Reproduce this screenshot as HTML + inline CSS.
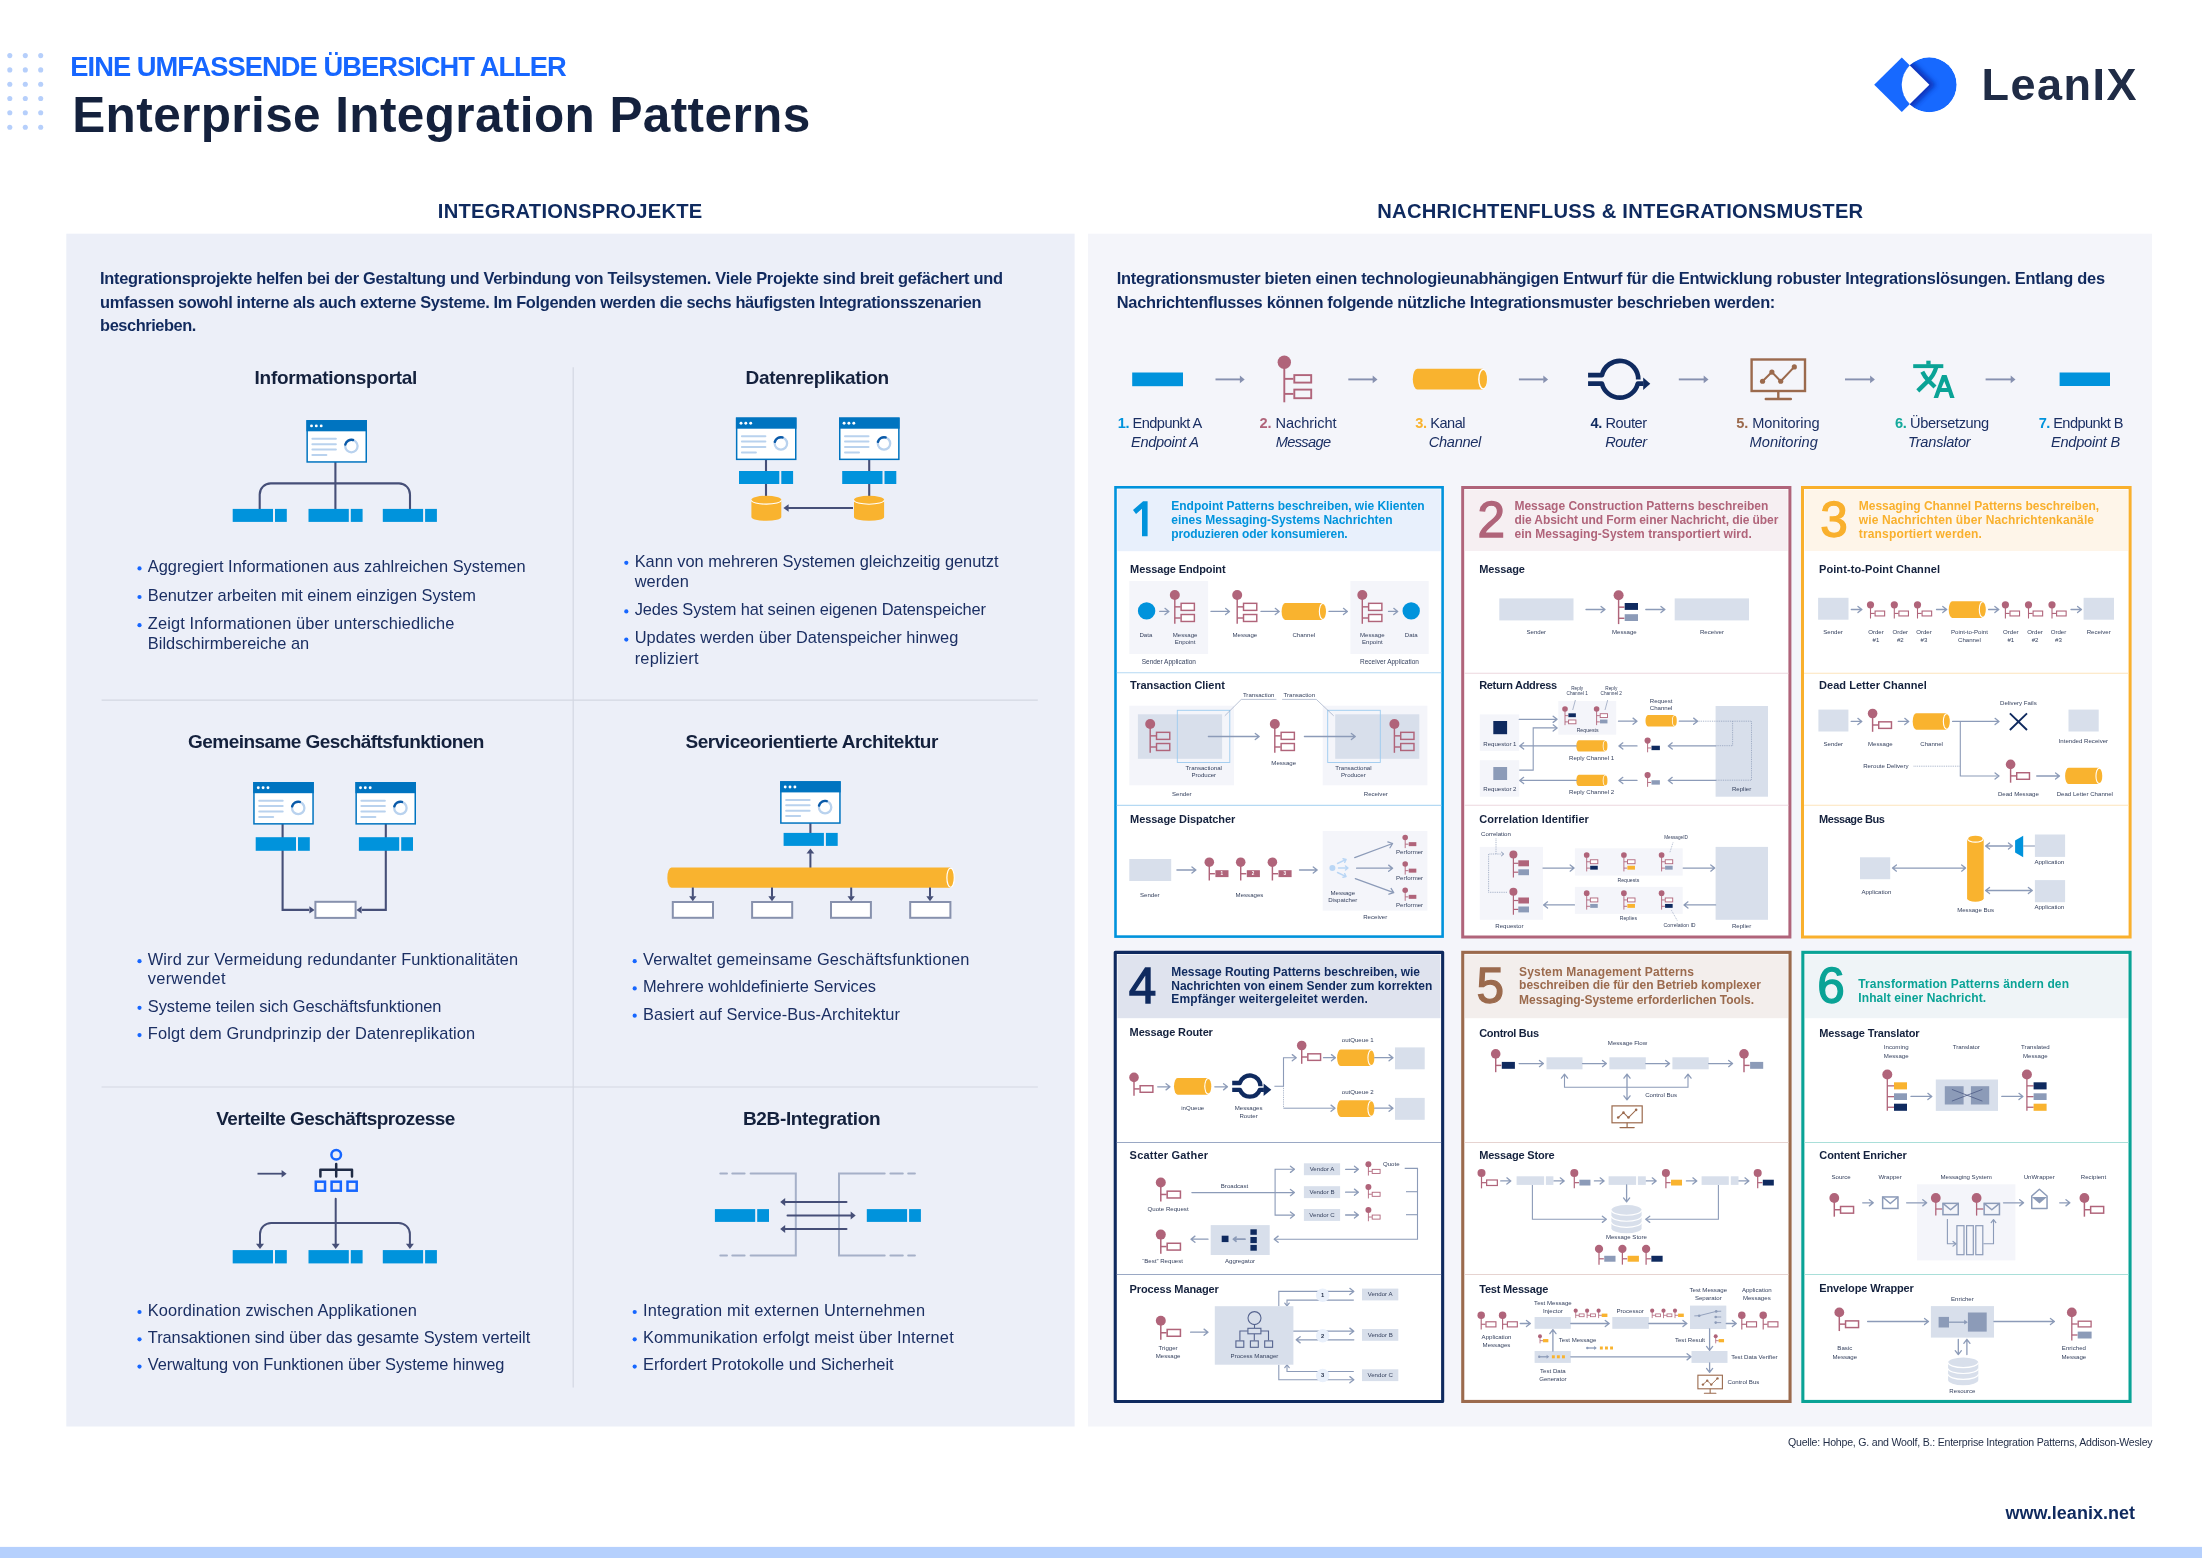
<!DOCTYPE html>
<html lang="de"><head><meta charset="utf-8"><title>Enterprise Integration Patterns</title>
<style>
html,body{margin:0;padding:0;background:#fff}
body{width:2206px;height:1558px;overflow:hidden;font-family:"Liberation Sans",sans-serif}
svg{display:block;position:absolute;left:0;top:0;will-change:transform}
svg text{font-family:"Liberation Sans",sans-serif;white-space:pre}
</style></head><body>
<svg width="2206" height="1558" viewBox="0 0 2206 1558">
<circle cx="9.8" cy="55.6" r="2.55" fill="#b6cffb"/>
<circle cx="9.8" cy="69.9" r="2.55" fill="#b6cffb"/>
<circle cx="9.8" cy="84.2" r="2.55" fill="#b6cffb"/>
<circle cx="9.8" cy="98.5" r="2.55" fill="#b6cffb"/>
<circle cx="9.8" cy="112.8" r="2.55" fill="#b6cffb"/>
<circle cx="9.8" cy="127.2" r="2.55" fill="#b6cffb"/>
<circle cx="25.3" cy="55.6" r="2.55" fill="#b6cffb"/>
<circle cx="25.3" cy="69.9" r="2.55" fill="#b6cffb"/>
<circle cx="25.3" cy="84.2" r="2.55" fill="#b6cffb"/>
<circle cx="25.3" cy="98.5" r="2.55" fill="#b6cffb"/>
<circle cx="25.3" cy="112.8" r="2.55" fill="#b6cffb"/>
<circle cx="25.3" cy="127.2" r="2.55" fill="#b6cffb"/>
<circle cx="40.7" cy="55.6" r="2.55" fill="#b6cffb"/>
<circle cx="40.7" cy="69.9" r="2.55" fill="#b6cffb"/>
<circle cx="40.7" cy="84.2" r="2.55" fill="#b6cffb"/>
<circle cx="40.7" cy="98.5" r="2.55" fill="#b6cffb"/>
<circle cx="40.7" cy="112.8" r="2.55" fill="#b6cffb"/>
<circle cx="40.7" cy="127.2" r="2.55" fill="#b6cffb"/>
<text x="70.3" y="76.2" font-size="27.3" fill="#1666ff" textLength="496.5" lengthAdjust="spacing" font-weight="700">EINE UMFASSENDE ÜBERSICHT ALLER</text>
<text x="72.2" y="132.4" font-size="49.5" fill="#14213d" textLength="738" lengthAdjust="spacing" font-weight="700">Enterprise Integration Patterns</text>
<defs><clipPath id="cpC"><circle cx="1929.2" cy="84.8" r="27.5"/></clipPath><filter id="bl" x="-50%" y="-50%" width="200%" height="200%"><feGaussianBlur stdDeviation="2.6"/></filter><mask id="mD"><rect x="1860" y="50" width="110" height="70" fill="#fff"/><circle cx="1929.2" cy="84.8" r="27.5" fill="#000"/></mask></defs>
<g clip-path="url(#cpC)"><circle cx="1929.2" cy="84.8" r="27.5" fill="#1769ff"/><path d="M1899 54.8 L1929.4 84.8 L1899 114.8" fill="none" stroke="#0733b8" stroke-width="9" filter="url(#bl)" opacity="0.95"/><path d="M1874.2 84.8 L1901.8 57.6 L1929.4 84.8 L1901.8 112 Z" fill="#fff"/></g>
<path d="M1874.2 84.8 L1901.8 57.6 L1929.4 84.8 L1901.8 112 Z" fill="#1769ff" mask="url(#mD)"/>
<text x="1981.5" y="99.9" font-size="45" fill="#202c46" textLength="155" lengthAdjust="spacing" font-weight="700">LeanIX</text>
<text x="437.8" y="217.6" font-size="20.2" fill="#0f2a5f" textLength="264.5" lengthAdjust="spacing" font-weight="700">INTEGRATIONSPROJEKTE</text>
<text x="1377.2" y="217.6" font-size="20.2" fill="#0f2a5f" textLength="486" lengthAdjust="spacing" font-weight="700">NACHRICHTENFLUSS &amp; INTEGRATIONSMUSTER</text>
<rect x="66.3" y="233.7" width="1008.3" height="1192.8" fill="#eceff8"/>
<rect x="1088" y="233.7" width="1064" height="1192.8" fill="#f4f5fa"/>
<text x="1788" y="1446.3" font-size="10.6" fill="#1f2b45" textLength="364.6" lengthAdjust="spacing">Quelle: Hohpe, G. and Woolf, B.: Enterprise Integration Patterns, Addison-Wesley</text>
<text x="2005.4" y="1519.3" font-size="18" fill="#0f2a5f" textLength="129.6" lengthAdjust="spacing" font-weight="700">www.leanix.net</text>
<rect x="0" y="1546.9" width="2202" height="11.1" fill="#b5d0fd"/>
<text x="100.1" y="284" font-size="16.4" fill="#112a5e" textLength="902.9" lengthAdjust="spacing" font-weight="700">Integrationsprojekte helfen bei der Gestaltung und Verbindung von Teilsystemen. Viele Projekte sind breit gefächert und</text>
<text x="100.1" y="307.7" font-size="16.4" fill="#112a5e" textLength="881.4" lengthAdjust="spacing" font-weight="700">umfassen sowohl interne als auch externe Systeme. Im Folgenden werden die sechs häufigsten Integrationsszenarien</text>
<text x="100.1" y="331.4" font-size="16.4" fill="#112a5e" textLength="96.3" lengthAdjust="spacing" font-weight="700">beschrieben.</text>
<path d="M573.2 367.3 L573.2 1387.4" fill="none" stroke="#d3d7e2" stroke-width="1.2"/>
<path d="M101.6 700.2 L1037.8 700.2" fill="none" stroke="#d3d7e2" stroke-width="1.2"/>
<path d="M101.6 1087 L1037.8 1087" fill="none" stroke="#d3d7e2" stroke-width="1.2"/>
<text x="254.6" y="384.2" font-size="19" fill="#14213d" textLength="162.8" lengthAdjust="spacing" font-weight="700">Informationsportal</text>
<text x="745.6" y="384.2" font-size="19" fill="#14213d" textLength="143.4" lengthAdjust="spacing" font-weight="700">Datenreplikation</text>
<text x="188.1" y="748" font-size="19" fill="#14213d" textLength="296.3" lengthAdjust="spacing" font-weight="700">Gemeinsame Geschäftsfunktionen</text>
<text x="685.5" y="748" font-size="19" fill="#14213d" textLength="252.9" lengthAdjust="spacing" font-weight="700">Serviceorientierte Architektur</text>
<text x="216.3" y="1124.7" font-size="19" fill="#14213d" textLength="239" lengthAdjust="spacing" font-weight="700">Verteilte Geschäftsprozesse</text>
<text x="742.9" y="1124.7" font-size="19" fill="#14213d" textLength="137.7" lengthAdjust="spacing" font-weight="700">B2B-Integration</text>
<path d="M335.4 462 L335.4 509 M259.7 509 L259.7 494.4 A11 11 0 0 1 270.7 483.4 L399 483.4 A11 11 0 0 1 410 494.4 L410 509" fill="none" stroke="#464f78" stroke-width="2.1"/>
<rect x="307.15" y="420.85" width="59.1" height="41.1" fill="#fff" stroke="#0074c0" stroke-width="1.5"/>
<rect x="306.4" y="420.1" width="60.6" height="11.2" fill="#0074c0"/>
<circle cx="311.5" cy="425.9" r="1.45" fill="#fff"/>
<circle cx="316.3" cy="425.9" r="1.45" fill="#fff"/>
<circle cx="321.2" cy="425.9" r="1.45" fill="#fff"/>
<path d="M312.4 438.8 L335.9 438.8" fill="none" stroke="#b9d2ee" stroke-width="2" stroke-linecap="round"/>
<path d="M312.4 444.2 L335.9 444.2" fill="none" stroke="#b9d2ee" stroke-width="2" stroke-linecap="round"/>
<path d="M312.4 449.6 L335.9 449.6" fill="none" stroke="#b9d2ee" stroke-width="2" stroke-linecap="round"/>
<path d="M312.4 455 L326.4 455" fill="none" stroke="#b9d2ee" stroke-width="2" stroke-linecap="round"/>
<circle cx="351.4" cy="446.1" r="6.2" fill="none" stroke="#b9d2ee" stroke-width="2.3"/>
<path d="M345.31 444.47 A6.3 6.3 0 0 1 353.03 440.01" fill="none" stroke="#0a5aa8" stroke-width="2.4" stroke-linecap="round"/>
<rect x="232.7" y="508.9" width="40.3" height="13" fill="#0093dc"/>
<rect x="275" y="508.9" width="11.8" height="13" fill="#0093dc"/>
<rect x="308.5" y="508.9" width="40.3" height="13" fill="#0093dc"/>
<rect x="350.8" y="508.9" width="11.8" height="13" fill="#0093dc"/>
<rect x="382.8" y="508.9" width="40.3" height="13" fill="#0093dc"/>
<rect x="425.1" y="508.9" width="11.8" height="13" fill="#0093dc"/>
<circle cx="139.5" cy="568.4" r="2.1" fill="#1666ff"/>
<text x="147.8" y="572.27" font-size="16.4" fill="#1b2f63" textLength="377.8" lengthAdjust="spacing">Aggregiert Informationen aus zahlreichen Systemen</text>
<circle cx="139.5" cy="597" r="2.1" fill="#1666ff"/>
<text x="147.8" y="600.87" font-size="16.4" fill="#1b2f63" textLength="328.2" lengthAdjust="spacing">Benutzer arbeiten mit einem einzigen System</text>
<circle cx="139.5" cy="625.2" r="2.1" fill="#1666ff"/>
<text x="147.8" y="629.07" font-size="16.4" fill="#1b2f63" textLength="306.6" lengthAdjust="spacing">Zeigt Informationen über unterschiedliche</text>
<text x="147.8" y="649.17" font-size="16.4" fill="#1b2f63" textLength="161.4" lengthAdjust="spacing">Bildschirmbereiche an</text>
<path d="M766 459 L766 497" fill="none" stroke="#464f78" stroke-width="2.1"/>
<path d="M869.2 459 L869.2 497" fill="none" stroke="#464f78" stroke-width="2.1"/>
<rect x="736.65" y="418.25" width="59.1" height="41.1" fill="#fff" stroke="#0074c0" stroke-width="1.5"/>
<rect x="735.9" y="417.5" width="60.6" height="11.2" fill="#0074c0"/>
<circle cx="741" cy="423.3" r="1.45" fill="#fff"/>
<circle cx="745.8" cy="423.3" r="1.45" fill="#fff"/>
<circle cx="750.7" cy="423.3" r="1.45" fill="#fff"/>
<path d="M741.9 436.2 L765.4 436.2" fill="none" stroke="#b9d2ee" stroke-width="2" stroke-linecap="round"/>
<path d="M741.9 441.6 L765.4 441.6" fill="none" stroke="#b9d2ee" stroke-width="2" stroke-linecap="round"/>
<path d="M741.9 447 L765.4 447" fill="none" stroke="#b9d2ee" stroke-width="2" stroke-linecap="round"/>
<path d="M741.9 452.4 L755.9 452.4" fill="none" stroke="#b9d2ee" stroke-width="2" stroke-linecap="round"/>
<circle cx="780.9" cy="443.5" r="6.2" fill="none" stroke="#b9d2ee" stroke-width="2.3"/>
<path d="M774.81 441.87 A6.3 6.3 0 0 1 782.53 437.41" fill="none" stroke="#0a5aa8" stroke-width="2.4" stroke-linecap="round"/>
<rect x="839.75" y="418.25" width="59.1" height="41.1" fill="#fff" stroke="#0074c0" stroke-width="1.5"/>
<rect x="839" y="417.5" width="60.6" height="11.2" fill="#0074c0"/>
<circle cx="844.1" cy="423.3" r="1.45" fill="#fff"/>
<circle cx="848.9" cy="423.3" r="1.45" fill="#fff"/>
<circle cx="853.8" cy="423.3" r="1.45" fill="#fff"/>
<path d="M845 436.2 L868.5 436.2" fill="none" stroke="#b9d2ee" stroke-width="2" stroke-linecap="round"/>
<path d="M845 441.6 L868.5 441.6" fill="none" stroke="#b9d2ee" stroke-width="2" stroke-linecap="round"/>
<path d="M845 447 L868.5 447" fill="none" stroke="#b9d2ee" stroke-width="2" stroke-linecap="round"/>
<path d="M845 452.4 L859 452.4" fill="none" stroke="#b9d2ee" stroke-width="2" stroke-linecap="round"/>
<circle cx="884" cy="443.5" r="6.2" fill="none" stroke="#b9d2ee" stroke-width="2.3"/>
<path d="M877.91 441.87 A6.3 6.3 0 0 1 885.63 437.41" fill="none" stroke="#0a5aa8" stroke-width="2.4" stroke-linecap="round"/>
<rect x="739" y="471" width="40.3" height="13" fill="#0093dc"/>
<rect x="781.3" y="471" width="11.8" height="13" fill="#0093dc"/>
<rect x="842.2" y="471" width="40.3" height="13" fill="#0093dc"/>
<rect x="884.5" y="471" width="11.8" height="13" fill="#0093dc"/>
<path d="M751.4 499.69 A14.95 3.89 0 0 1 781.3 499.69 L781.3 516.91 A14.95 3.89 0 0 1 751.4 516.91 Z" fill="#f9b32f"/>
<path d="M751.4 500.29 A14.95 3.89 0 0 0 781.3 500.29" fill="none" stroke="#fff" stroke-width="1.1"/>
<path d="M854 499.71 A15.05 3.91 0 0 1 884.1 499.71 L884.1 516.89 A15.05 3.91 0 0 1 854 516.89 Z" fill="#f9b32f"/>
<path d="M854 500.31 A15.05 3.91 0 0 0 884.1 500.31" fill="none" stroke="#fff" stroke-width="1.1"/>
<path d="M853 508 L788.1 508" fill="none" stroke="#464f78" stroke-width="2"/>
<path d="M783.4 508 L788.6 504.3 L788.6 511.7Z" fill="#464f78"/>
<circle cx="626.3" cy="562.8" r="2.1" fill="#1666ff"/>
<text x="634.7" y="566.67" font-size="16.4" fill="#1b2f63" textLength="363.8" lengthAdjust="spacing">Kann von mehreren Systemen gleichzeitig genutzt</text>
<text x="634.7" y="587.07" font-size="16.4" fill="#1b2f63" textLength="54.1" lengthAdjust="spacing">werden</text>
<circle cx="626.3" cy="611.4" r="2.1" fill="#1666ff"/>
<text x="634.7" y="615.27" font-size="16.4" fill="#1b2f63" textLength="351.3" lengthAdjust="spacing">Jedes System hat seinen eigenen Datenspeicher</text>
<circle cx="626.3" cy="639.6" r="2.1" fill="#1666ff"/>
<text x="634.7" y="643.47" font-size="16.4" fill="#1b2f63" textLength="323.6" lengthAdjust="spacing">Updates werden über Datenspeicher hinweg</text>
<text x="634.7" y="663.57" font-size="16.4" fill="#1b2f63" textLength="63.8" lengthAdjust="spacing">repliziert</text>
<path d="M282.6 823 L282.6 909.9 L309 909.9 M385.8 823 L385.8 909.9 L362 909.9" fill="none" stroke="#464f78" stroke-width="2.1"/>
<path d="M314.6 909.9 L309.4 913.6 L309.4 906.2Z" fill="#464f78"/>
<path d="M356.4 909.9 L361.6 906.2 L361.6 913.6Z" fill="#464f78"/>
<rect x="253.95" y="782.75" width="59.1" height="41.1" fill="#fff" stroke="#0074c0" stroke-width="1.5"/>
<rect x="253.2" y="782" width="60.6" height="11.2" fill="#0074c0"/>
<circle cx="258.3" cy="787.8" r="1.45" fill="#fff"/>
<circle cx="263.1" cy="787.8" r="1.45" fill="#fff"/>
<circle cx="268" cy="787.8" r="1.45" fill="#fff"/>
<path d="M259.2 800.7 L282.7 800.7" fill="none" stroke="#b9d2ee" stroke-width="2" stroke-linecap="round"/>
<path d="M259.2 806.1 L282.7 806.1" fill="none" stroke="#b9d2ee" stroke-width="2" stroke-linecap="round"/>
<path d="M259.2 811.5 L282.7 811.5" fill="none" stroke="#b9d2ee" stroke-width="2" stroke-linecap="round"/>
<path d="M259.2 816.9 L273.2 816.9" fill="none" stroke="#b9d2ee" stroke-width="2" stroke-linecap="round"/>
<circle cx="298.2" cy="808" r="6.2" fill="none" stroke="#b9d2ee" stroke-width="2.3"/>
<path d="M292.11 806.37 A6.3 6.3 0 0 1 299.83 801.91" fill="none" stroke="#0a5aa8" stroke-width="2.4" stroke-linecap="round"/>
<rect x="356.15" y="782.75" width="59.1" height="41.1" fill="#fff" stroke="#0074c0" stroke-width="1.5"/>
<rect x="355.4" y="782" width="60.6" height="11.2" fill="#0074c0"/>
<circle cx="360.5" cy="787.8" r="1.45" fill="#fff"/>
<circle cx="365.3" cy="787.8" r="1.45" fill="#fff"/>
<circle cx="370.2" cy="787.8" r="1.45" fill="#fff"/>
<path d="M361.4 800.7 L384.9 800.7" fill="none" stroke="#b9d2ee" stroke-width="2" stroke-linecap="round"/>
<path d="M361.4 806.1 L384.9 806.1" fill="none" stroke="#b9d2ee" stroke-width="2" stroke-linecap="round"/>
<path d="M361.4 811.5 L384.9 811.5" fill="none" stroke="#b9d2ee" stroke-width="2" stroke-linecap="round"/>
<path d="M361.4 816.9 L375.4 816.9" fill="none" stroke="#b9d2ee" stroke-width="2" stroke-linecap="round"/>
<circle cx="400.4" cy="808" r="6.2" fill="none" stroke="#b9d2ee" stroke-width="2.3"/>
<path d="M394.31 806.37 A6.3 6.3 0 0 1 402.03 801.91" fill="none" stroke="#0a5aa8" stroke-width="2.4" stroke-linecap="round"/>
<rect x="255.7" y="837.2" width="40.3" height="13.6" fill="#0093dc"/>
<rect x="298" y="837.2" width="11.8" height="13.6" fill="#0093dc"/>
<rect x="358.9" y="837.2" width="40.3" height="13.6" fill="#0093dc"/>
<rect x="401.2" y="837.2" width="11.8" height="13.6" fill="#0093dc"/>
<rect x="315.4" y="901.8" width="40.2" height="16.1" fill="#fff" stroke="#8791ad" stroke-width="2"/>
<circle cx="139.5" cy="961.2" r="2.1" fill="#1666ff"/>
<text x="147.8" y="965.07" font-size="16.4" fill="#1b2f63" textLength="370.4" lengthAdjust="spacing">Wird zur Vermeidung redundanter Funktionalitäten</text>
<text x="147.8" y="984.47" font-size="16.4" fill="#1b2f63" textLength="77.7" lengthAdjust="spacing">verwendet</text>
<circle cx="139.5" cy="1007.8" r="2.1" fill="#1666ff"/>
<text x="147.8" y="1011.67" font-size="16.4" fill="#1b2f63" textLength="293.6" lengthAdjust="spacing">Systeme teilen sich Geschäftsfunktionen</text>
<circle cx="139.5" cy="1035.1" r="2.1" fill="#1666ff"/>
<text x="147.8" y="1038.97" font-size="16.4" fill="#1b2f63" textLength="327.4" lengthAdjust="spacing">Folgt dem Grundprinzip der Datenreplikation</text>
<path d="M810.4 823 L810.4 834" fill="none" stroke="#464f78" stroke-width="2.1"/>
<rect x="780.85" y="781.95" width="59.1" height="41.1" fill="#fff" stroke="#0074c0" stroke-width="1.5"/>
<rect x="780.1" y="781.2" width="60.6" height="11.2" fill="#0074c0"/>
<circle cx="785.2" cy="787" r="1.45" fill="#fff"/>
<circle cx="790" cy="787" r="1.45" fill="#fff"/>
<circle cx="794.9" cy="787" r="1.45" fill="#fff"/>
<path d="M786.1 799.9 L809.6 799.9" fill="none" stroke="#b9d2ee" stroke-width="2" stroke-linecap="round"/>
<path d="M786.1 805.3 L809.6 805.3" fill="none" stroke="#b9d2ee" stroke-width="2" stroke-linecap="round"/>
<path d="M786.1 810.7 L809.6 810.7" fill="none" stroke="#b9d2ee" stroke-width="2" stroke-linecap="round"/>
<path d="M786.1 816.1 L800.1 816.1" fill="none" stroke="#b9d2ee" stroke-width="2" stroke-linecap="round"/>
<circle cx="825.1" cy="807.2" r="6.2" fill="none" stroke="#b9d2ee" stroke-width="2.3"/>
<path d="M819.01 805.57 A6.3 6.3 0 0 1 826.73 801.11" fill="none" stroke="#0a5aa8" stroke-width="2.4" stroke-linecap="round"/>
<rect x="783.6" y="832.9" width="40.3" height="13" fill="#0093dc"/>
<rect x="825.9" y="832.9" width="11.8" height="13" fill="#0093dc"/>
<path d="M810.4 868 L810.4 853.1" fill="none" stroke="#464f78" stroke-width="2"/>
<path d="M810.4 848.4 L814.3 853.6 L806.5 853.6Z" fill="#464f78"/>
<path d="M671.5 867.5 L950.5 867.5 L950.5 887.8 L671.5 887.8 A4.2 10.15 0 0 1 671.5 867.5 Z" fill="#f9b32f"/>
<ellipse cx="950.6" cy="877.65" rx="3.7" ry="9.6" fill="#f9b32f" stroke="#fff" stroke-width="1.2"/>
<path d="M692.8 887.5 L692.8 896.7" fill="none" stroke="#464f78" stroke-width="2"/>
<path d="M692.8 901.2 L689.1 896.2 L696.5 896.2Z" fill="#464f78"/>
<rect x="672.8" y="902" width="40.2" height="15.8" fill="#fff" stroke="#8791ad" stroke-width="2"/>
<path d="M772 887.5 L772 896.7" fill="none" stroke="#464f78" stroke-width="2"/>
<path d="M772 901.2 L768.3 896.2 L775.7 896.2Z" fill="#464f78"/>
<rect x="752.1" y="902" width="40.1" height="15.8" fill="#fff" stroke="#8791ad" stroke-width="2"/>
<path d="M851.2 887.5 L851.2 896.7" fill="none" stroke="#464f78" stroke-width="2"/>
<path d="M851.2 901.2 L847.5 896.2 L854.9 896.2Z" fill="#464f78"/>
<rect x="831" y="902" width="39.9" height="15.8" fill="#fff" stroke="#8791ad" stroke-width="2"/>
<path d="M930 887.5 L930 896.7" fill="none" stroke="#464f78" stroke-width="2"/>
<path d="M930 901.2 L926.3 896.2 L933.7 896.2Z" fill="#464f78"/>
<rect x="910.2" y="902" width="40.2" height="15.8" fill="#fff" stroke="#8791ad" stroke-width="2"/>
<circle cx="634.7" cy="961.2" r="2.1" fill="#1666ff"/>
<text x="643" y="965.07" font-size="16.4" fill="#1b2f63" textLength="326.4" lengthAdjust="spacing">Verwaltet gemeinsame Geschäftsfunktionen</text>
<circle cx="634.7" cy="988.4" r="2.1" fill="#1666ff"/>
<text x="643" y="992.27" font-size="16.4" fill="#1b2f63" textLength="233" lengthAdjust="spacing">Mehrere wohldefinierte Services</text>
<circle cx="634.7" cy="1015.7" r="2.1" fill="#1666ff"/>
<text x="643" y="1019.57" font-size="16.4" fill="#1b2f63" textLength="257" lengthAdjust="spacing">Basiert auf Service-Bus-Architektur</text>
<circle cx="336.2" cy="1154.7" r="4.8" fill="none" stroke="#1666ff" stroke-width="2.5"/>
<path d="M336.2 1164 L336.2 1176.5 M320.4 1176.5 L320.4 1169.7 L352 1169.7 L352 1176.5" fill="none" stroke="#1f2b45" stroke-width="2.5" stroke-linecap="round" stroke-linejoin="round"/>
<rect x="315.8" y="1181.7" width="9.2" height="9" fill="none" stroke="#1666ff" stroke-width="2.5"/>
<rect x="331.6" y="1181.7" width="9.2" height="9" fill="none" stroke="#1666ff" stroke-width="2.5"/>
<rect x="347.5" y="1181.7" width="9.2" height="9" fill="none" stroke="#1666ff" stroke-width="2.5"/>
<path d="M257.5 1173.7 L282.1 1173.7" fill="none" stroke="#464f78" stroke-width="1.8"/>
<path d="M286.6 1173.7 L281.6 1177.5 L281.6 1169.9Z" fill="#464f78"/>
<path d="M335.7 1198.8 L335.7 1244 M260 1244 L260 1234 A11.2 11.2 0 0 1 271.2 1222.9 L398.7 1222.9 A11.2 11.2 0 0 1 409.9 1234 L409.9 1244" fill="none" stroke="#464f78" stroke-width="2" stroke-linecap="round"/>
<path d="M260 1249 L256 1243.8 L264 1243.8Z" fill="#464f78"/>
<path d="M335.7 1249 L331.7 1243.8 L339.7 1243.8Z" fill="#464f78"/>
<path d="M409.9 1249 L405.9 1243.8 L413.9 1243.8Z" fill="#464f78"/>
<rect x="232.7" y="1250.1" width="40.3" height="13.3" fill="#0093dc"/>
<rect x="275" y="1250.1" width="11.8" height="13.3" fill="#0093dc"/>
<rect x="308.5" y="1250.1" width="40.3" height="13.3" fill="#0093dc"/>
<rect x="350.8" y="1250.1" width="11.8" height="13.3" fill="#0093dc"/>
<rect x="382.8" y="1250.1" width="40.3" height="13.3" fill="#0093dc"/>
<rect x="425.1" y="1250.1" width="11.8" height="13.3" fill="#0093dc"/>
<circle cx="139.5" cy="1312" r="2.1" fill="#1666ff"/>
<text x="147.8" y="1315.87" font-size="16.4" fill="#1b2f63" textLength="269.1" lengthAdjust="spacing">Koordination zwischen Applikationen</text>
<circle cx="139.5" cy="1339.3" r="2.1" fill="#1666ff"/>
<text x="147.8" y="1343.17" font-size="16.4" fill="#1b2f63" textLength="382.4" lengthAdjust="spacing">Transaktionen sind über das gesamte System verteilt</text>
<circle cx="139.5" cy="1366.6" r="2.1" fill="#1666ff"/>
<text x="147.8" y="1370.47" font-size="16.4" fill="#1b2f63" textLength="356.5" lengthAdjust="spacing">Verwaltung von Funktionen über Systeme hinweg</text>
<path d="M750.6 1173.4 L795.8 1173.4 L795.8 1255.5 L750.6 1255.5 M884.7 1173.4 L839 1173.4 L839 1255.5 L884.7 1255.5" fill="none" stroke="#a5b0c8" stroke-width="2" stroke-linecap="round"/>
<path d="M720.3 1173.4 L727 1173.4" fill="none" stroke="#a5b0c8" stroke-width="2" stroke-linecap="round"/>
<path d="M732.3 1173.4 L744.6 1173.4" fill="none" stroke="#a5b0c8" stroke-width="2" stroke-linecap="round"/>
<path d="M890.4 1173.4 L902.8 1173.4" fill="none" stroke="#a5b0c8" stroke-width="2" stroke-linecap="round"/>
<path d="M908.2 1173.4 L914.9 1173.4" fill="none" stroke="#a5b0c8" stroke-width="2" stroke-linecap="round"/>
<path d="M720.3 1255.5 L727 1255.5" fill="none" stroke="#a5b0c8" stroke-width="2" stroke-linecap="round"/>
<path d="M732.3 1255.5 L744.6 1255.5" fill="none" stroke="#a5b0c8" stroke-width="2" stroke-linecap="round"/>
<path d="M890.4 1255.5 L902.8 1255.5" fill="none" stroke="#a5b0c8" stroke-width="2" stroke-linecap="round"/>
<path d="M908.2 1255.5 L914.9 1255.5" fill="none" stroke="#a5b0c8" stroke-width="2" stroke-linecap="round"/>
<rect x="714.9" y="1209.1" width="40.3" height="12.8" fill="#0093dc"/>
<rect x="757.2" y="1209.1" width="11.8" height="12.8" fill="#0093dc"/>
<rect x="866.8" y="1209.1" width="40.3" height="12.8" fill="#0093dc"/>
<rect x="909.1" y="1209.1" width="11.8" height="12.8" fill="#0093dc"/>
<path d="M846.5 1202 L785 1202" fill="none" stroke="#464f78" stroke-width="2" stroke-linecap="round"/>
<path d="M780.2 1202 L785.2 1198 L785.2 1206Z" fill="#464f78"/>
<path d="M846.5 1229 L785 1229" fill="none" stroke="#464f78" stroke-width="2" stroke-linecap="round"/>
<path d="M780.2 1229 L785.2 1225 L785.2 1233Z" fill="#464f78"/>
<path d="M787.5 1215.5 L851 1215.5" fill="none" stroke="#464f78" stroke-width="2" stroke-linecap="round"/>
<path d="M855.7 1215.5 L850.7 1219.5 L850.7 1211.5Z" fill="#464f78"/>
<circle cx="634.7" cy="1312" r="2.1" fill="#1666ff"/>
<text x="643" y="1315.87" font-size="16.4" fill="#1b2f63" textLength="282" lengthAdjust="spacing">Integration mit externen Unternehmen</text>
<circle cx="634.7" cy="1339.3" r="2.1" fill="#1666ff"/>
<text x="643" y="1343.17" font-size="16.4" fill="#1b2f63" textLength="310.7" lengthAdjust="spacing">Kommunikation erfolgt meist über Internet</text>
<circle cx="634.7" cy="1366.6" r="2.1" fill="#1666ff"/>
<text x="643" y="1370.47" font-size="16.4" fill="#1b2f63" textLength="250.6" lengthAdjust="spacing">Erfordert Protokolle und Sicherheit</text>
<text x="1116.8" y="284.1" font-size="16.4" fill="#112a5e" textLength="988.2" lengthAdjust="spacing" font-weight="700">Integrationsmuster bieten einen technologieunabhängigen Entwurf für die Entwicklung robuster Integrationslösungen. Entlang des</text>
<text x="1116.8" y="307.9" font-size="16.4" fill="#112a5e" textLength="658.5" lengthAdjust="spacing" font-weight="700">Nachrichtenflusses können folgende nützliche Integrationsmuster beschrieben werden:</text>
<rect x="1132.2" y="372.5" width="50.8" height="13.7" fill="#0093dc"/>
<rect x="2059.6" y="372.5" width="50.4" height="13.5" fill="#0093dc"/>
<path d="M1215.5 379.4 L1240.4 379.4" fill="none" stroke="#8791b0" stroke-width="1.9"/>
<path d="M1244.7 379.4 L1239.9 383.3 L1239.9 375.5Z" fill="#8791b0"/>
<path d="M1348.3 379.4 L1373.2 379.4" fill="none" stroke="#8791b0" stroke-width="1.9"/>
<path d="M1377.5 379.4 L1372.7 383.3 L1372.7 375.5Z" fill="#8791b0"/>
<path d="M1518.9 379.4 L1543.8 379.4" fill="none" stroke="#8791b0" stroke-width="1.9"/>
<path d="M1548.1 379.4 L1543.3 383.3 L1543.3 375.5Z" fill="#8791b0"/>
<path d="M1678.8 379.4 L1704.2 379.4" fill="none" stroke="#8791b0" stroke-width="1.9"/>
<path d="M1708.5 379.4 L1703.7 383.3 L1703.7 375.5Z" fill="#8791b0"/>
<path d="M1845 379.4 L1870.6 379.4" fill="none" stroke="#8791b0" stroke-width="1.9"/>
<path d="M1874.9 379.4 L1870.1 383.3 L1870.1 375.5Z" fill="#8791b0"/>
<path d="M1985.6 379.4 L2011.2 379.4" fill="none" stroke="#8791b0" stroke-width="1.9"/>
<path d="M2015.5 379.4 L2010.7 383.3 L2010.7 375.5Z" fill="#8791b0"/>
<circle cx="1284.3" cy="362.2" r="6.7" fill="#b0647a"/>
<path d="M1284.3 362.2 L1284.3 402.3" fill="none" stroke="#b0647a" stroke-width="1.9"/>
<path d="M1284.3 378.85 L1293.4 378.85" fill="none" stroke="#b0647a" stroke-width="1.9"/>
<rect x="1294.3" y="375.1" width="16.9" height="7.5" fill="none" stroke="#b0647a" stroke-width="1.9"/>
<path d="M1284.3 393.9 L1293.4 393.9" fill="none" stroke="#b0647a" stroke-width="1.9"/>
<rect x="1294.3" y="389.6" width="16.9" height="8.6" fill="none" stroke="#b0647a" stroke-width="1.9"/>
<path d="M1417.4 368.7 L1482.8 368.7 L1482.8 389.6 L1417.4 389.6 A4.6 10.45 0 0 1 1417.4 368.7 Z" fill="#f9b32f"/>
<ellipse cx="1482.8" cy="379.15" rx="4.6" ry="10.45" fill="#fff"/>
<ellipse cx="1483.28" cy="379.15" rx="3.71" ry="9.09" fill="#f9b32f"/>
<path d="M1588.07 375.2 L1601.93 375.2 A18.4 18.4 0 0 1 1638.27 379.54" fill="none" stroke="#0f2a5f" stroke-width="4.7" stroke-linejoin="round"/>
<path d="M1588.07 383.7 L1602.01 383.7 A18.4 18.4 0 0 0 1637.73 383.7 L1643.47 383.7" fill="none" stroke="#0f2a5f" stroke-width="4.7" stroke-linejoin="round"/>
<path d="M1643.17 377.45 L1650.27 383.7 L1643.17 389.95Z" fill="#0f2a5f"/>
<rect x="1751.6" y="359.5" width="53.4" height="31.5" fill="none" stroke="#9b6a4d" stroke-width="2.4"/>
<path d="M1778.3 391 L1778.3 399" fill="none" stroke="#9b6a4d" stroke-width="2.4"/>
<path d="M1765.75 399 L1790.85 399" fill="none" stroke="#9b6a4d" stroke-width="2.4" stroke-linecap="round"/>
<path d="M1762.55 381.24 L1771.89 372.1 L1780.7 381.24 L1794.32 366.9" fill="none" stroke="#9b6a4d" stroke-width="2.04" stroke-linejoin="round"/>
<circle cx="1762.55" cy="381.24" r="2.59" fill="#9b6a4d"/>
<circle cx="1771.89" cy="372.1" r="2.59" fill="#9b6a4d"/>
<circle cx="1780.7" cy="381.24" r="2.59" fill="#9b6a4d"/>
<circle cx="1794.32" cy="366.9" r="2.59" fill="#9b6a4d"/>
<g transform="translate(0 0)" fill="#0aa396">
<rect x="1913.2" y="364.2" width="30.1" height="3.9"/><rect x="1926.3" y="360.7" width="4.3" height="4"/>
<path d="M1936.3 367 C1934.6 373 1931.6 377.6 1928 380.9 L1917.8 390.9" fill="none" stroke="#0aa396" stroke-width="4.3"/>
<path d="M1922.3 371.7 C1924 375.2 1926 378.2 1928.6 380.7 L1935 387" fill="none" stroke="#0aa396" stroke-width="4.3"/>
<path fill-rule="evenodd" d="M1942 375 L1946.6 375 L1954.6 398 L1950.1 398 L1948.3 392.1 L1940.2 392.1 L1938.1 398 L1933.6 398 Z M1944.3 381.2 L1947 388.1 L1941.5 388.1 Z"/>
</g>
<text x="1117.8" y="428.38" font-size="14.6" fill="#1b2f63" textLength="84.5" lengthAdjust="spacing"><tspan fill="#0093dc" font-weight="700">1.</tspan> Endpunkt A</text>
<text x="1131" y="446.98" font-size="14.6" fill="#1b2f63" textLength="68" lengthAdjust="spacing" font-style="italic">Endpoint A</text>
<text x="1259.4" y="428.38" font-size="14.6" fill="#1b2f63" textLength="77.2" lengthAdjust="spacing"><tspan fill="#b0647a" font-weight="700">2.</tspan> Nachricht</text>
<text x="1275.7" y="446.98" font-size="14.6" fill="#1b2f63" textLength="55.3" lengthAdjust="spacing" font-style="italic">Message</text>
<text x="1415.3" y="428.38" font-size="14.6" fill="#1b2f63" textLength="50.3" lengthAdjust="spacing"><tspan fill="#f9b32f" font-weight="700">3.</tspan> Kanal</text>
<text x="1428.8" y="446.98" font-size="14.6" fill="#1b2f63" textLength="52.5" lengthAdjust="spacing" font-style="italic">Channel</text>
<text x="1590.5" y="428.38" font-size="14.6" fill="#1b2f63" textLength="56.6" lengthAdjust="spacing"><tspan fill="#0f2a5f" font-weight="700">4.</tspan> Router</text>
<text x="1605.2" y="446.98" font-size="14.6" fill="#1b2f63" textLength="41.9" lengthAdjust="spacing" font-style="italic">Router</text>
<text x="1736.2" y="428.38" font-size="14.6" fill="#1b2f63" textLength="83.5" lengthAdjust="spacing"><tspan fill="#9b6a4d" font-weight="700">5.</tspan> Monitoring</text>
<text x="1749.6" y="446.98" font-size="14.6" fill="#1b2f63" textLength="68.2" lengthAdjust="spacing" font-style="italic">Monitoring</text>
<text x="1895" y="428.38" font-size="14.6" fill="#1b2f63" textLength="94.2" lengthAdjust="spacing"><tspan fill="#14a99b" font-weight="700">6.</tspan> Übersetzung</text>
<text x="1908.1" y="446.98" font-size="14.6" fill="#1b2f63" textLength="62.6" lengthAdjust="spacing" font-style="italic">Translator</text>
<text x="2038.7" y="428.38" font-size="14.6" fill="#1b2f63" textLength="84.8" lengthAdjust="spacing"><tspan fill="#0093dc" font-weight="700">7.</tspan> Endpunkt B</text>
<text x="2050.9" y="446.98" font-size="14.6" fill="#1b2f63" textLength="69.3" lengthAdjust="spacing" font-style="italic">Endpoint B</text>
<rect x="1115.5" y="487.3" width="327.1" height="449.3" fill="#fff" stroke="#0093dc" stroke-width="2.6"/>
<rect x="1117.5" y="489.3" width="323.1" height="61.9" fill="#e8f0fc"/>
<path d="M1116.8 672.8 L1441.3 672.8" fill="none" stroke="#b5d9f3" stroke-width="1.1"/>
<path d="M1116.8 805.4 L1441.3 805.4" fill="none" stroke="#b5d9f3" stroke-width="1.1"/>
<path d="M1143.1 501.3 L1147.6 501.3 L1147.6 536.2 L1142 536.2 L1142 508.8 L1136 513.9 L1133 509.9 Z" fill="#0093dc"/>
<text x="1171.3" y="510.1" font-size="12" fill="#0093dc" textLength="253.4" lengthAdjust="spacing" font-weight="700">Endpoint Patterns beschreiben, wie Klienten</text>
<text x="1171.3" y="523.9" font-size="12" fill="#0093dc" textLength="221.2" lengthAdjust="spacing" font-weight="700">eines Messaging-Systems Nachrichten</text>
<text x="1171.3" y="537.8" font-size="12" fill="#0093dc" textLength="176.4" lengthAdjust="spacing" font-weight="700">produzieren oder konsumieren.</text>
<text x="1130.1" y="572.7" font-size="11" fill="#14213d" textLength="95.5" lengthAdjust="spacing" font-weight="700">Message Endpoint</text>
<text x="1130.1" y="689.1" font-size="11" fill="#14213d" textLength="94.7" lengthAdjust="spacing" font-weight="700">Transaction Client</text>
<text x="1130.1" y="823.1" font-size="11" fill="#14213d" textLength="105.2" lengthAdjust="spacing" font-weight="700">Message Dispatcher</text>
<rect x="1462.7" y="487.5" width="327.2" height="449.5" fill="#fff" stroke="#b0647a" stroke-width="3"/>
<rect x="1464.9" y="489.7" width="322.8" height="61.3" fill="#f6eff2"/>
<path d="M1464.2 673.2 L1788.4 673.2" fill="none" stroke="#ecd7de" stroke-width="1.1"/>
<path d="M1464.2 805.2 L1788.4 805.2" fill="none" stroke="#ecd7de" stroke-width="1.1"/>
<text x="1491.25" y="537.2" font-size="49.5" fill="#b0647a" stroke="#b0647a" stroke-width="1.3" text-anchor="middle">2</text>
<text x="1514.4" y="509.9" font-size="12" fill="#b0647a" textLength="253.9" lengthAdjust="spacing" font-weight="700">Message Construction Patterns beschreiben</text>
<text x="1514.4" y="523.8" font-size="12" fill="#b0647a" textLength="264" lengthAdjust="spacing" font-weight="700">die Absicht und Form einer Nachricht, die über</text>
<text x="1514.4" y="537.6" font-size="12" fill="#b0647a" textLength="237.4" lengthAdjust="spacing" font-weight="700">ein Messaging-System transportiert wird.</text>
<text x="1479.2" y="572.7" font-size="11" fill="#14213d" textLength="45.7" lengthAdjust="spacing" font-weight="700">Message</text>
<text x="1479.2" y="689" font-size="11" fill="#14213d" textLength="77.9" lengthAdjust="spacing" font-weight="700">Return Address</text>
<text x="1479.2" y="823.1" font-size="11" fill="#14213d" textLength="109.7" lengthAdjust="spacing" font-weight="700">Correlation Identifier</text>
<rect x="1802.5" y="487.5" width="327.6" height="449.5" fill="#fff" stroke="#f9b02d" stroke-width="3"/>
<rect x="1804.7" y="489.7" width="323.2" height="61.3" fill="#fef5e9"/>
<path d="M1804 673.2 L2128.6 673.2" fill="none" stroke="#fde4bb" stroke-width="1.1"/>
<path d="M1804 805.2 L2128.6 805.2" fill="none" stroke="#fde4bb" stroke-width="1.1"/>
<text x="1834" y="537.2" font-size="49.5" fill="#f9b02d" stroke="#f9b02d" stroke-width="1.3" text-anchor="middle">3</text>
<text x="1858.8" y="509.9" font-size="12" fill="#f9b02d" textLength="240.4" lengthAdjust="spacing" font-weight="700">Messaging Channel Patterns beschreiben,</text>
<text x="1858.8" y="523.8" font-size="12" fill="#f9b02d" textLength="235.2" lengthAdjust="spacing" font-weight="700">wie Nachrichten über Nachrichtenkanäle</text>
<text x="1858.8" y="537.6" font-size="12" fill="#f9b02d" textLength="123.1" lengthAdjust="spacing" font-weight="700">transportiert werden.</text>
<text x="1819" y="572.7" font-size="11" fill="#14213d" textLength="121" lengthAdjust="spacing" font-weight="700">Point-to-Point Channel</text>
<text x="1819" y="689" font-size="11" fill="#14213d" textLength="107.7" lengthAdjust="spacing" font-weight="700">Dead Letter Channel</text>
<text x="1819" y="823.1" font-size="11" fill="#14213d" textLength="65.8" lengthAdjust="spacing" font-weight="700">Message Bus</text>
<rect x="1115.25" y="952.35" width="327.4" height="449.1" fill="#fff" stroke="#0f2a5f" stroke-width="3.1" stroke-linejoin="round"/>
<rect x="1117.5" y="954.6" width="322.9" height="63.6" fill="#dfe3ee"/>
<path d="M1116.8 1142.5 L1441.1 1142.5" fill="none" stroke="#9aa8c4" stroke-width="1.1"/>
<path d="M1116.8 1274.5 L1441.1 1274.5" fill="none" stroke="#9aa8c4" stroke-width="1.1"/>
<text x="1142.55" y="1003.4" font-size="49.5" fill="#0f2a5f" stroke="#0f2a5f" stroke-width="1.3" text-anchor="middle">4</text>
<text x="1171.3" y="975.7" font-size="12" fill="#0f2a5f" textLength="248.6" lengthAdjust="spacing" font-weight="700">Message Routing Patterns beschreiben, wie</text>
<text x="1171.3" y="989.6" font-size="12" fill="#0f2a5f" textLength="261" lengthAdjust="spacing" font-weight="700">Nachrichten von einem Sender zum korrekten</text>
<text x="1171.3" y="1003.4" font-size="12" fill="#0f2a5f" textLength="196.6" lengthAdjust="spacing" font-weight="700">Empfänger weitergeleitet werden.</text>
<text x="1129.6" y="1036.4" font-size="11" fill="#14213d" textLength="83.3" lengthAdjust="spacing" font-weight="700">Message Router</text>
<text x="1129.6" y="1159.1" font-size="11" fill="#14213d" textLength="78.4" lengthAdjust="spacing" font-weight="700">Scatter Gather</text>
<text x="1129.6" y="1293.4" font-size="11" fill="#14213d" textLength="89.2" lengthAdjust="spacing" font-weight="700">Process Manager</text>
<rect x="1462.75" y="952.35" width="327.3" height="449.1" fill="#fff" stroke="#9b6a4d" stroke-width="3.1"/>
<rect x="1465" y="954.6" width="322.8" height="63.6" fill="#f3eeec"/>
<path d="M1464.3 1142.5 L1788.5 1142.5" fill="none" stroke="#e6d3d0" stroke-width="1.1"/>
<path d="M1464.3 1274.5 L1788.5 1274.5" fill="none" stroke="#e6d3d0" stroke-width="1.1"/>
<text x="1490.25" y="1003.4" font-size="49.5" fill="#9b6a4d" stroke="#9b6a4d" stroke-width="1.3" text-anchor="middle">5</text>
<text x="1519.1" y="975.7" font-size="12" fill="#9b6a4d" textLength="174.9" lengthAdjust="spacing" font-weight="700">System Management Patterns</text>
<text x="1519.1" y="989.4" font-size="12" fill="#9b6a4d" textLength="241.7" lengthAdjust="spacing" font-weight="700">beschreiben die für den Betrieb komplexer</text>
<text x="1519.1" y="1003.5" font-size="12" fill="#9b6a4d" textLength="234.9" lengthAdjust="spacing" font-weight="700">Messaging-Systeme erforderlichen Tools.</text>
<text x="1479.2" y="1036.5" font-size="11" fill="#14213d" textLength="59.8" lengthAdjust="spacing" font-weight="700">Control Bus</text>
<text x="1479.2" y="1159.1" font-size="11" fill="#14213d" textLength="75.5" lengthAdjust="spacing" font-weight="700">Message Store</text>
<text x="1479.2" y="1293.4" font-size="11" fill="#14213d" textLength="69.1" lengthAdjust="spacing" font-weight="700">Test Message</text>
<rect x="1802.85" y="952.35" width="327.2" height="449.1" fill="#fff" stroke="#0aa396" stroke-width="3.1"/>
<rect x="1805.1" y="954.6" width="322.7" height="63.6" fill="#eff4f7"/>
<path d="M1804.4 1142.5 L2128.5 1142.5" fill="none" stroke="#a9dfd9" stroke-width="1.1"/>
<path d="M1804.4 1274.5 L2128.5 1274.5" fill="none" stroke="#a9dfd9" stroke-width="1.1"/>
<text x="1831" y="1003.4" font-size="49.5" fill="#0aa396" stroke="#0aa396" stroke-width="1.3" text-anchor="middle">6</text>
<text x="1858.3" y="987.7" font-size="12" fill="#0aa396" textLength="210.7" lengthAdjust="spacing" font-weight="700">Transformation Patterns ändern den</text>
<text x="1858.3" y="1001.5" font-size="12" fill="#0aa396" textLength="127.8" lengthAdjust="spacing" font-weight="700">Inhalt einer Nachricht.</text>
<text x="1819.3" y="1036.5" font-size="11" fill="#14213d" textLength="100.3" lengthAdjust="spacing" font-weight="700">Message Translator</text>
<text x="1819.3" y="1159.1" font-size="11" fill="#14213d" textLength="87.6" lengthAdjust="spacing" font-weight="700">Content Enricher</text>
<text x="1819.3" y="1291.6" font-size="11" fill="#14213d" textLength="94.6" lengthAdjust="spacing" font-weight="700">Envelope Wrapper</text>
<rect x="1129.3" y="581" width="78.8" height="73" fill="#f4f5fa"/>
<rect x="1350.4" y="581" width="78.3" height="73" fill="#f4f5fa"/>
<circle cx="1146.6" cy="610.9" r="8.7" fill="#0093dc"/>
<circle cx="1411.2" cy="610.9" r="8.7" fill="#0093dc"/>
<path d="M1159.7 611.4 L1168.9 611.4 M1164.96 614.48 L1168.9 611.4 L1164.96 608.32" fill="none" stroke="#8c9bb8" stroke-width="1.3" stroke-linecap="round" stroke-linejoin="round"/>
<circle cx="1174.8" cy="595" r="5" fill="#b0647a"/>
<path d="M1174.8 595 L1174.8 623.8" fill="none" stroke="#b0647a" stroke-width="1.45"/>
<path d="M1174.8 606.85 L1180.6 606.85" fill="none" stroke="#b0647a" stroke-width="1.45"/>
<rect x="1181.12" y="603.33" width="13.25" height="7.05" fill="#fff" stroke="#b0647a" stroke-width="1.45"/>
<path d="M1174.8 618 L1180.6 618" fill="none" stroke="#b0647a" stroke-width="1.45"/>
<rect x="1181.12" y="614.52" width="13.25" height="6.95" fill="#fff" stroke="#b0647a" stroke-width="1.45"/>
<path d="M1211 611.4 L1229.5 611.4 M1225.56 614.48 L1229.5 611.4 L1225.56 608.32" fill="none" stroke="#8c9bb8" stroke-width="1.3" stroke-linecap="round" stroke-linejoin="round"/>
<circle cx="1237.2" cy="595" r="5" fill="#b0647a"/>
<path d="M1237.2 595 L1237.2 623.8" fill="none" stroke="#b0647a" stroke-width="1.45"/>
<path d="M1237.2 606.85 L1243 606.85" fill="none" stroke="#b0647a" stroke-width="1.45"/>
<rect x="1243.52" y="603.33" width="13.25" height="7.05" fill="#fff" stroke="#b0647a" stroke-width="1.45"/>
<path d="M1237.2 618 L1243 618" fill="none" stroke="#b0647a" stroke-width="1.45"/>
<rect x="1243.52" y="614.52" width="13.25" height="6.95" fill="#fff" stroke="#b0647a" stroke-width="1.45"/>
<path d="M1261 611.4 L1279.2 611.4 M1275.26 614.48 L1279.2 611.4 L1275.26 608.32" fill="none" stroke="#8c9bb8" stroke-width="1.3" stroke-linecap="round" stroke-linejoin="round"/>
<path d="M1285.34 603 L1322.56 603 L1322.56 620 L1285.34 620 A3.74 8.5 0 0 1 1285.34 603 Z" fill="#f9b32f"/>
<ellipse cx="1322.56" cy="611.5" rx="3.74" ry="8.5" fill="#fff"/>
<ellipse cx="1322.95" cy="611.5" rx="3.02" ry="7.39" fill="#f9b32f"/>
<path d="M1329 611.4 L1347.4 611.4 M1343.46 614.48 L1347.4 611.4 L1343.46 608.32" fill="none" stroke="#8c9bb8" stroke-width="1.3" stroke-linecap="round" stroke-linejoin="round"/>
<circle cx="1362.3" cy="595" r="5" fill="#b0647a"/>
<path d="M1362.3 595 L1362.3 623.8" fill="none" stroke="#b0647a" stroke-width="1.45"/>
<path d="M1362.3 606.85 L1368.1 606.85" fill="none" stroke="#b0647a" stroke-width="1.45"/>
<rect x="1368.62" y="603.33" width="13.25" height="7.05" fill="#fff" stroke="#b0647a" stroke-width="1.45"/>
<path d="M1362.3 618 L1368.1 618" fill="none" stroke="#b0647a" stroke-width="1.45"/>
<rect x="1368.62" y="614.52" width="13.25" height="6.95" fill="#fff" stroke="#b0647a" stroke-width="1.45"/>
<path d="M1388.5 611.4 L1397.7 611.4 M1393.76 614.48 L1397.7 611.4 L1393.76 608.32" fill="none" stroke="#8c9bb8" stroke-width="1.3" stroke-linecap="round" stroke-linejoin="round"/>
<text x="1145.9" y="636.53" font-size="6.1" fill="#36425f" text-anchor="middle">Data</text>
<text x="1185.1" y="636.53" font-size="6.1" fill="#36425f" text-anchor="middle">Message</text>
<text x="1185.1" y="643.83" font-size="6.1" fill="#36425f" text-anchor="middle">Enpoint</text>
<text x="1244.9" y="636.53" font-size="6.1" fill="#36425f" text-anchor="middle">Message</text>
<text x="1303.8" y="636.53" font-size="6.1" fill="#36425f" text-anchor="middle">Channel</text>
<text x="1372.3" y="636.53" font-size="6.1" fill="#36425f" text-anchor="middle">Message</text>
<text x="1372.3" y="643.83" font-size="6.1" fill="#36425f" text-anchor="middle">Enpoint</text>
<text x="1411.2" y="636.53" font-size="6.1" fill="#36425f" text-anchor="middle">Data</text>
<text x="1168.8" y="663.95" font-size="6.5" fill="#36425f" text-anchor="middle">Sender Application</text>
<text x="1389.5" y="663.95" font-size="6.5" fill="#36425f" text-anchor="middle">Receiver Application</text>
<rect x="1129.3" y="705.7" width="104.7" height="79.6" fill="#f4f5fa"/>
<rect x="1322.7" y="705.7" width="104.7" height="79.6" fill="#f4f5fa"/>
<rect x="1137.9" y="714.3" width="84.2" height="44.5" fill="#d8dfeb"/>
<rect x="1335.2" y="714.3" width="84.1" height="44.5" fill="#d8dfeb"/>
<rect x="1177.3" y="710.3" width="52.5" height="52.2" fill="none" stroke="#9dcbef" stroke-width="0.9"/>
<rect x="1327.7" y="710.3" width="52.6" height="52.2" fill="none" stroke="#9dcbef" stroke-width="0.9"/>
<circle cx="1150.2" cy="724" r="5" fill="#b0647a"/>
<path d="M1150.2 724 L1150.2 752.8" fill="none" stroke="#b0647a" stroke-width="1.45"/>
<path d="M1150.2 735.85 L1156 735.85" fill="none" stroke="#b0647a" stroke-width="1.45"/>
<rect x="1156.52" y="732.33" width="13.25" height="7.05" fill="none" stroke="#b0647a" stroke-width="1.45"/>
<path d="M1150.2 747 L1156 747" fill="none" stroke="#b0647a" stroke-width="1.45"/>
<rect x="1156.52" y="743.52" width="13.25" height="6.95" fill="none" stroke="#b0647a" stroke-width="1.45"/>
<circle cx="1274.8" cy="724" r="5" fill="#b0647a"/>
<path d="M1274.8 724 L1274.8 752.8" fill="none" stroke="#b0647a" stroke-width="1.45"/>
<path d="M1274.8 735.85 L1280.6 735.85" fill="none" stroke="#b0647a" stroke-width="1.45"/>
<rect x="1281.12" y="732.33" width="13.25" height="7.05" fill="#fff" stroke="#b0647a" stroke-width="1.45"/>
<path d="M1274.8 747 L1280.6 747" fill="none" stroke="#b0647a" stroke-width="1.45"/>
<rect x="1281.12" y="743.52" width="13.25" height="6.95" fill="#fff" stroke="#b0647a" stroke-width="1.45"/>
<circle cx="1394.4" cy="724" r="5" fill="#b0647a"/>
<path d="M1394.4 724 L1394.4 752.8" fill="none" stroke="#b0647a" stroke-width="1.45"/>
<path d="M1394.4 735.85 L1400.2 735.85" fill="none" stroke="#b0647a" stroke-width="1.45"/>
<rect x="1400.72" y="732.33" width="13.25" height="7.05" fill="none" stroke="#b0647a" stroke-width="1.45"/>
<path d="M1394.4 747 L1400.2 747" fill="none" stroke="#b0647a" stroke-width="1.45"/>
<rect x="1400.72" y="743.52" width="13.25" height="6.95" fill="none" stroke="#b0647a" stroke-width="1.45"/>
<path d="M1208.4 736.5 L1259.2 736.5 M1255.26 739.58 L1259.2 736.5 L1255.26 733.42" fill="none" stroke="#8c9bb8" stroke-width="1.3" stroke-linecap="round" stroke-linejoin="round"/>
<path d="M1304.4 736.5 L1355.3 736.5 M1351.36 739.58 L1355.3 736.5 L1351.36 733.42" fill="none" stroke="#8c9bb8" stroke-width="1.3" stroke-linecap="round" stroke-linejoin="round"/>
<text x="1258.7" y="697.13" font-size="6.1" fill="#36425f" text-anchor="middle">Transaction</text>
<text x="1299.3" y="697.13" font-size="6.1" fill="#36425f" text-anchor="middle">Transaction</text>
<path d="M1276.4 699.4 L1241.3 699.4 L1224.8 715.8" fill="none" stroke="#8c9bb8" stroke-width="0.6"/>
<path d="M1282.1 699.4 L1316.3 699.4 L1333.7 715.8" fill="none" stroke="#8c9bb8" stroke-width="0.6"/>
<text x="1203.8" y="769.83" font-size="6.1" fill="#36425f" text-anchor="middle">Transactional</text>
<text x="1203.8" y="777.13" font-size="6.1" fill="#36425f" text-anchor="middle">Producer</text>
<text x="1283.7" y="765.33" font-size="6.1" fill="#36425f" text-anchor="middle">Message</text>
<text x="1353.4" y="769.83" font-size="6.1" fill="#36425f" text-anchor="middle">Transactional</text>
<text x="1353.4" y="777.13" font-size="6.1" fill="#36425f" text-anchor="middle">Producer</text>
<text x="1181.8" y="796.33" font-size="6.1" fill="#36425f" text-anchor="middle">Sender</text>
<text x="1375.8" y="796.33" font-size="6.1" fill="#36425f" text-anchor="middle">Receiver</text>
<rect x="1129.3" y="859" width="41.9" height="22" fill="#d8dfeb"/>
<path d="M1176.9 870 L1195.9 870 M1191.96 873.08 L1195.9 870 L1191.96 866.92" fill="none" stroke="#8c9bb8" stroke-width="1.3" stroke-linecap="round" stroke-linejoin="round"/>
<circle cx="1209.3" cy="862.2" r="4.8" fill="#b0647a"/>
<path d="M1209.3 862.2 L1209.3 880.5" fill="none" stroke="#b0647a" stroke-width="1.45"/>
<path d="M1209.3 873.7 L1214.9 873.7" fill="none" stroke="#b0647a" stroke-width="1.45"/>
<rect x="1215.4" y="870.2" width="13.1" height="6.9" fill="#b0647a"/>
<text x="1221.7" y="875.18" font-size="4.6" fill="#fff" text-anchor="middle" font-weight="700">1</text>
<circle cx="1240.7" cy="862.2" r="4.8" fill="#b0647a"/>
<path d="M1240.7 862.2 L1240.7 880.5" fill="none" stroke="#b0647a" stroke-width="1.45"/>
<path d="M1240.7 873.7 L1246.3 873.7" fill="none" stroke="#b0647a" stroke-width="1.45"/>
<rect x="1246.8" y="870.2" width="13.1" height="6.9" fill="#b0647a"/>
<text x="1253.1" y="875.18" font-size="4.6" fill="#fff" text-anchor="middle" font-weight="700">2</text>
<circle cx="1272.4" cy="862.2" r="4.8" fill="#b0647a"/>
<path d="M1272.4 862.2 L1272.4 880.5" fill="none" stroke="#b0647a" stroke-width="1.45"/>
<path d="M1272.4 873.7 L1278 873.7" fill="none" stroke="#b0647a" stroke-width="1.45"/>
<rect x="1278.5" y="870.2" width="13.1" height="6.9" fill="#b0647a"/>
<text x="1284.8" y="875.18" font-size="4.6" fill="#fff" text-anchor="middle" font-weight="700">3</text>
<path d="M1299.5 870 L1317.2 870 M1313.26 873.08 L1317.2 870 L1313.26 866.92" fill="none" stroke="#8c9bb8" stroke-width="1.3" stroke-linecap="round" stroke-linejoin="round"/>
<rect x="1322.7" y="831" width="104.7" height="79.6" fill="#f4f5fa"/>
<circle cx="1332.4" cy="868" r="3" fill="#b9d6f5"/>
<path d="M1337.5 863.5 L1346.11 859.49 M1344.66 862.34 L1346.11 859.49 L1342.99 858.77" fill="none" stroke="#b9d6f5" stroke-width="1.4" stroke-linecap="round" stroke-linejoin="round"/>
<path d="M1338.5 868 L1348 868 M1345.48 869.97 L1348 868 L1345.48 866.03" fill="none" stroke="#b9d6f5" stroke-width="1.4" stroke-linecap="round" stroke-linejoin="round"/>
<path d="M1337.5 872.5 L1346.11 876.51 M1342.99 877.23 L1346.11 876.51 L1344.66 873.66" fill="none" stroke="#b9d6f5" stroke-width="1.4" stroke-linecap="round" stroke-linejoin="round"/>
<path d="M1354.7 857.6 L1392.6 843.5 M1389.98 847.76 L1392.6 843.5 L1387.83 841.99" fill="none" stroke="#8c9bb8" stroke-width="1.3" stroke-linecap="round" stroke-linejoin="round"/>
<path d="M1356.6 868.2 L1392.6 868.2 M1388.66 871.28 L1392.6 868.2 L1388.66 865.12" fill="none" stroke="#8c9bb8" stroke-width="1.3" stroke-linecap="round" stroke-linejoin="round"/>
<path d="M1355.3 878.6 L1393.7 892.7 M1388.94 894.23 L1393.7 892.7 L1391.06 888.45" fill="none" stroke="#8c9bb8" stroke-width="1.3" stroke-linecap="round" stroke-linejoin="round"/>
<circle cx="1405.2" cy="837.5" r="2.78" fill="#b0647a"/>
<path d="M1405.2 837.5 L1405.2 848.11" fill="none" stroke="#b0647a" stroke-width="0.9"/>
<path d="M1405.2 844.17 L1408.45 844.17" fill="none" stroke="#b0647a" stroke-width="0.9"/>
<rect x="1408.74" y="842.14" width="7.6" height="4" fill="#b0647a"/>
<circle cx="1405.2" cy="864" r="2.78" fill="#b0647a"/>
<path d="M1405.2 864 L1405.2 874.61" fill="none" stroke="#b0647a" stroke-width="0.9"/>
<path d="M1405.2 870.67 L1408.45 870.67" fill="none" stroke="#b0647a" stroke-width="0.9"/>
<rect x="1408.74" y="868.64" width="7.6" height="4" fill="#b0647a"/>
<circle cx="1405.2" cy="890.2" r="2.78" fill="#b0647a"/>
<path d="M1405.2 890.2 L1405.2 900.81" fill="none" stroke="#b0647a" stroke-width="0.9"/>
<path d="M1405.2 896.87 L1408.45 896.87" fill="none" stroke="#b0647a" stroke-width="0.9"/>
<rect x="1408.74" y="894.84" width="7.6" height="4" fill="#b0647a"/>
<text x="1409.6" y="854.33" font-size="6.1" fill="#36425f" text-anchor="middle">Performer</text>
<text x="1409.6" y="880.43" font-size="6.1" fill="#36425f" text-anchor="middle">Performer</text>
<text x="1409.6" y="906.63" font-size="6.1" fill="#36425f" text-anchor="middle">Performer</text>
<text x="1342.8" y="894.53" font-size="6.1" fill="#36425f" text-anchor="middle">Message</text>
<text x="1342.8" y="901.83" font-size="6.1" fill="#36425f" text-anchor="middle">Dispatcher</text>
<text x="1375.2" y="918.83" font-size="6.1" fill="#36425f" text-anchor="middle">Receiver</text>
<text x="1149.8" y="897.33" font-size="6.1" fill="#36425f" text-anchor="middle">Sender</text>
<text x="1249.5" y="897.33" font-size="6.1" fill="#36425f" text-anchor="middle">Messages</text>
<rect x="1499.3" y="598.4" width="74.2" height="22" fill="#d8dfeb"/>
<rect x="1674.7" y="598.4" width="74.3" height="22" fill="#d8dfeb"/>
<path d="M1586 609.5 L1605 609.5 M1601.06 612.58 L1605 609.5 L1601.06 606.42" fill="none" stroke="#8c9bb8" stroke-width="1.3" stroke-linecap="round" stroke-linejoin="round"/>
<path d="M1645.8 609.5 L1664.9 609.5 M1660.96 612.58 L1664.9 609.5 L1660.96 606.42" fill="none" stroke="#8c9bb8" stroke-width="1.3" stroke-linecap="round" stroke-linejoin="round"/>
<circle cx="1618.6" cy="595.3" r="5" fill="#b0647a"/>
<path d="M1618.6 595.3 L1618.6 624.1" fill="none" stroke="#b0647a" stroke-width="1.45"/>
<path d="M1618.6 607.15 L1624.4 607.15" fill="none" stroke="#b0647a" stroke-width="1.45"/>
<rect x="1624.7" y="603" width="13.3" height="6.9" fill="#0f2a5f"/>
<path d="M1618.6 618.3 L1624.4 618.3" fill="none" stroke="#b0647a" stroke-width="1.45"/>
<rect x="1624.7" y="614.2" width="13.3" height="6.8" fill="#8c9bb8"/>
<text x="1536.3" y="634.03" font-size="6.1" fill="#36425f" text-anchor="middle">Sender</text>
<text x="1624.4" y="634.03" font-size="6.1" fill="#36425f" text-anchor="middle">Message</text>
<text x="1712" y="634.03" font-size="6.1" fill="#36425f" text-anchor="middle">Receiver</text>
<rect x="1479.8" y="714.4" width="39.4" height="36.5" fill="#f4f5fa"/>
<rect x="1479.8" y="760.2" width="39.4" height="36.5" fill="#f4f5fa"/>
<rect x="1493.3" y="721" width="13.8" height="13.2" fill="#0f2a5f"/>
<rect x="1493.3" y="767" width="13.8" height="13" fill="#8c9bb8"/>
<text x="1499.9" y="745.53" font-size="6.1" fill="#36425f" text-anchor="middle">Requestor 1</text>
<text x="1499.9" y="790.83" font-size="6.1" fill="#36425f" text-anchor="middle">Requestor 2</text>
<rect x="1558.3" y="701" width="57.9" height="33.7" fill="#f4f5fa"/>
<text x="1587.6" y="731.56" font-size="5.2" fill="#36425f" text-anchor="middle">Requests</text>
<circle cx="1565" cy="709" r="2.8" fill="#b0647a"/>
<path d="M1565 709 L1565 725.13" fill="none" stroke="#b0647a" stroke-width="0.9"/>
<path d="M1565 715.64 L1568.25 715.64" fill="none" stroke="#b0647a" stroke-width="0.9"/>
<rect x="1568.42" y="713.31" width="7.45" height="3.86" fill="#0f2a5f"/>
<path d="M1565 721.88 L1568.25 721.88" fill="none" stroke="#b0647a" stroke-width="0.9"/>
<rect x="1568.59" y="719.98" width="7.33" height="3.8" fill="#fff" stroke="#b0647a" stroke-width="0.9"/>
<circle cx="1596.6" cy="709" r="2.8" fill="#b0647a"/>
<path d="M1596.6 709 L1596.6 725.13" fill="none" stroke="#b0647a" stroke-width="0.9"/>
<path d="M1596.6 715.64 L1599.85 715.64" fill="none" stroke="#b0647a" stroke-width="0.9"/>
<rect x="1600.19" y="713.71" width="7.33" height="3.86" fill="#fff" stroke="#b0647a" stroke-width="0.9"/>
<path d="M1596.6 721.88 L1599.85 721.88" fill="none" stroke="#b0647a" stroke-width="0.9"/>
<rect x="1600.02" y="719.58" width="7.45" height="3.81" fill="#8c9bb8"/>
<text x="1577.2" y="689.81" font-size="4.7" fill="#36425f" text-anchor="middle">Reply</text>
<text x="1577.2" y="695.21" font-size="4.7" fill="#36425f" text-anchor="middle">Channel 1</text>
<text x="1611.3" y="689.81" font-size="4.7" fill="#36425f" text-anchor="middle">Reply</text>
<text x="1611.3" y="695.21" font-size="4.7" fill="#36425f" text-anchor="middle">Channel 2</text>
<path d="M1575.4 700 L1572.7 710" fill="none" stroke="#8c9bb8" stroke-width="0.7"/>
<path d="M1607.7 700 L1605 710" fill="none" stroke="#8c9bb8" stroke-width="0.7"/>
<path d="M1519.2 719.3 L1557.1 719.3 M1553.16 722.38 L1557.1 719.3 L1553.16 716.22" fill="none" stroke="#8c9bb8" stroke-width="1.3" stroke-linecap="round" stroke-linejoin="round"/>
<path d="M1519.2 770.1 L1533.2 770.1 L1533.2 727.9 L1557.1 727.9" fill="none" stroke="#8c9bb8" stroke-width="1.1"/>
<path d="M1553.16 730.98 L1557.1 727.9 L1553.16 724.82" fill="none" stroke="#8c9bb8" stroke-width="1.3" stroke-linecap="round" stroke-linejoin="round"/>
<path d="M1618.5 721.2 L1637 721.2 M1633.06 724.28 L1637 721.2 L1633.06 718.12" fill="none" stroke="#8c9bb8" stroke-width="1.3" stroke-linecap="round" stroke-linejoin="round"/>
<path d="M1648.03 715 L1674.47 715 L1674.47 726.5 L1648.03 726.5 A2.53 5.75 0 0 1 1648.03 715 Z" fill="#f9b32f"/>
<ellipse cx="1674.47" cy="720.75" rx="2.53" ry="5.75" fill="#fff"/>
<ellipse cx="1674.75" cy="720.75" rx="2.01" ry="4.95" fill="#f9b32f"/>
<text x="1661.1" y="702.83" font-size="6.1" fill="#36425f" text-anchor="middle">Request</text>
<text x="1661.1" y="710.13" font-size="6.1" fill="#36425f" text-anchor="middle">Channel</text>
<path d="M1679.3 721.2 L1697.6 721.2 M1693.66 724.28 L1697.6 721.2 L1693.66 718.12" fill="none" stroke="#8c9bb8" stroke-width="1.3" stroke-linecap="round" stroke-linejoin="round"/>
<rect x="1715.6" y="706" width="52.4" height="90.7" fill="#d8dfeb"/>
<text x="1741.6" y="790.83" font-size="6.1" fill="#36425f" text-anchor="middle">Replier</text>
<path d="M1697.6 721.2 L1751.5 721.2 L1751.5 780.2 L1715.6 780.2" fill="none" stroke="#8c9bb8" stroke-width="0.8" stroke-dasharray="0.9 0.9"/>
<path d="M1732.6 721.2 L1732.6 745.7 L1715.6 745.7" fill="none" stroke="#8c9bb8" stroke-width="0.8" stroke-dasharray="0.9 0.9"/>
<path d="M1578.79 740.3 L1605.21 740.3 L1605.21 751.6 L1578.79 751.6 A2.49 5.65 0 0 1 1578.79 740.3 Z" fill="#f9b32f"/>
<ellipse cx="1605.21" cy="745.95" rx="2.49" ry="5.65" fill="#fff"/>
<ellipse cx="1605.49" cy="745.95" rx="1.97" ry="4.85" fill="#f9b32f"/>
<path d="M1576.3 745.9 L1519.7 745.9 M1523.64 742.82 L1519.7 745.9 L1523.64 748.98" fill="none" stroke="#8c9bb8" stroke-width="1.3" stroke-linecap="round" stroke-linejoin="round"/>
<path d="M1637 745.9 L1618.9 745.9 M1622.84 742.82 L1618.9 745.9 L1622.84 748.98" fill="none" stroke="#8c9bb8" stroke-width="1.3" stroke-linecap="round" stroke-linejoin="round"/>
<circle cx="1647.6" cy="740.6" r="3.07" fill="#b0647a"/>
<path d="M1647.6 740.6 L1647.6 752.31" fill="none" stroke="#b0647a" stroke-width="0.93"/>
<path d="M1647.6 747.96 L1651.18 747.96" fill="none" stroke="#b0647a" stroke-width="0.93"/>
<rect x="1651.5" y="745.72" width="8.38" height="4.42" fill="#0f2a5f"/>
<path d="M1715.6 745.9 L1668.3 745.9 M1672.24 742.82 L1668.3 745.9 L1672.24 748.98" fill="none" stroke="#8c9bb8" stroke-width="1.3" stroke-linecap="round" stroke-linejoin="round"/>
<text x="1591.6" y="759.83" font-size="6.1" fill="#36425f" text-anchor="middle">Reply Channel 1</text>
<path d="M1578.79 774.8 L1605.21 774.8 L1605.21 786.1 L1578.79 786.1 A2.49 5.65 0 0 1 1578.79 774.8 Z" fill="#f9b32f"/>
<ellipse cx="1605.21" cy="780.45" rx="2.49" ry="5.65" fill="#fff"/>
<ellipse cx="1605.49" cy="780.45" rx="1.97" ry="4.85" fill="#f9b32f"/>
<path d="M1576.3 780.4 L1519.7 780.4 M1523.64 777.32 L1519.7 780.4 L1523.64 783.48" fill="none" stroke="#8c9bb8" stroke-width="1.3" stroke-linecap="round" stroke-linejoin="round"/>
<path d="M1637 780.4 L1618.9 780.4 M1622.84 777.32 L1618.9 780.4 L1622.84 783.48" fill="none" stroke="#8c9bb8" stroke-width="1.3" stroke-linecap="round" stroke-linejoin="round"/>
<circle cx="1647.6" cy="775.1" r="3.07" fill="#b0647a"/>
<path d="M1647.6 775.1 L1647.6 786.81" fill="none" stroke="#b0647a" stroke-width="0.93"/>
<path d="M1647.6 782.46 L1651.18 782.46" fill="none" stroke="#b0647a" stroke-width="0.93"/>
<rect x="1651.5" y="780.22" width="8.38" height="4.42" fill="#8c9bb8"/>
<path d="M1715.6 780.4 L1668.3 780.4 M1672.24 777.32 L1668.3 780.4 L1672.24 783.48" fill="none" stroke="#8c9bb8" stroke-width="1.3" stroke-linecap="round" stroke-linejoin="round"/>
<text x="1591.6" y="794.33" font-size="6.1" fill="#36425f" text-anchor="middle">Reply Channel 2</text>
<rect x="1479.8" y="846.9" width="63.2" height="72.9" fill="#f4f5fa"/>
<rect x="1574.9" y="848.3" width="107.8" height="27.3" fill="#f4f5fa"/>
<rect x="1574.9" y="886.9" width="107.8" height="27" fill="#f4f5fa"/>
<rect x="1715.6" y="846.9" width="52.4" height="72.9" fill="#d8dfeb"/>
<text x="1496" y="835.73" font-size="6.1" fill="#36425f" text-anchor="middle">Correlation</text>
<path d="M1496 838.5 L1496 854" fill="none" stroke="#8c9bb8" stroke-width="0.8" stroke-dasharray="0.9 0.9"/>
<path d="M1503 854 L1488.6 854 L1488.6 892.3 L1507.1 892.3" fill="none" stroke="#8c9bb8" stroke-width="0.8" stroke-dasharray="0.9 0.9"/>
<path d="M1501.44 855.85 L1503.8 854 L1501.44 852.15" fill="none" stroke="#8c9bb8" stroke-width="1" stroke-linecap="round" stroke-linejoin="round"/>
<circle cx="1513.4" cy="854.6" r="4" fill="#b0647a"/>
<path d="M1513.4 854.6 L1513.4 877.6" fill="none" stroke="#b0647a" stroke-width="1.2"/>
<path d="M1513.4 863.3 L1518.4 863.3" fill="none" stroke="#b0647a" stroke-width="1.2"/>
<path d="M1513.4 872.2 L1518.4 872.2" fill="none" stroke="#b0647a" stroke-width="1.2"/>
<rect x="1518.3" y="860.3" width="10.7" height="6" fill="#b0647a"/>
<rect x="1518.3" y="869.3" width="10.7" height="5.9" fill="#8c9bb8"/>
<circle cx="1513.4" cy="891.8" r="4" fill="#b0647a"/>
<path d="M1513.4 891.8 L1513.4 914.8" fill="none" stroke="#b0647a" stroke-width="1.2"/>
<path d="M1513.4 900.5 L1518.4 900.5" fill="none" stroke="#b0647a" stroke-width="1.2"/>
<path d="M1513.4 909.4 L1518.4 909.4" fill="none" stroke="#b0647a" stroke-width="1.2"/>
<rect x="1518.3" y="897.5" width="10.7" height="6" fill="#b0647a"/>
<rect x="1518.3" y="906.5" width="10.7" height="5.9" fill="#8c9bb8"/>
<path d="M1543 868.1 L1574.1 868.1 M1570.16 871.18 L1574.1 868.1 L1570.16 865.02" fill="none" stroke="#8c9bb8" stroke-width="1.3" stroke-linecap="round" stroke-linejoin="round"/>
<path d="M1683.2 868.1 L1714.7 868.1 M1710.76 871.18 L1714.7 868.1 L1710.76 865.02" fill="none" stroke="#8c9bb8" stroke-width="1.3" stroke-linecap="round" stroke-linejoin="round"/>
<path d="M1715.6 904.9 L1684 904.9 M1687.94 901.82 L1684 904.9 L1687.94 907.98" fill="none" stroke="#8c9bb8" stroke-width="1.3" stroke-linecap="round" stroke-linejoin="round"/>
<path d="M1574.5 904.9 L1543.6 904.9 M1547.54 901.82 L1543.6 904.9 L1547.54 907.98" fill="none" stroke="#8c9bb8" stroke-width="1.3" stroke-linecap="round" stroke-linejoin="round"/>
<circle cx="1586.7" cy="855" r="2.85" fill="#b0647a"/>
<path d="M1586.7 855 L1586.7 871.42" fill="none" stroke="#b0647a" stroke-width="0.9"/>
<path d="M1586.7 861.75 L1590.01 861.75" fill="none" stroke="#b0647a" stroke-width="0.9"/>
<rect x="1590.34" y="859.78" width="7.48" height="3.94" fill="#fff" stroke="#b0647a" stroke-width="0.9"/>
<path d="M1586.7 868.11 L1590.01 868.11" fill="none" stroke="#b0647a" stroke-width="0.9"/>
<rect x="1590.18" y="865.77" width="7.58" height="3.88" fill="#0f2a5f"/>
<circle cx="1586.7" cy="893.2" r="2.85" fill="#b0647a"/>
<path d="M1586.7 893.2 L1586.7 909.62" fill="none" stroke="#b0647a" stroke-width="0.9"/>
<path d="M1586.7 899.95 L1590.01 899.95" fill="none" stroke="#b0647a" stroke-width="0.9"/>
<rect x="1590.34" y="897.98" width="7.48" height="3.94" fill="#fff" stroke="#b0647a" stroke-width="0.9"/>
<path d="M1586.7 906.31 L1590.01 906.31" fill="none" stroke="#b0647a" stroke-width="0.9"/>
<rect x="1590.18" y="903.97" width="7.58" height="3.88" fill="#8c9bb8"/>
<circle cx="1623.9" cy="855" r="2.85" fill="#b0647a"/>
<path d="M1623.9 855 L1623.9 871.42" fill="none" stroke="#b0647a" stroke-width="0.9"/>
<path d="M1623.9 861.75 L1627.21 861.75" fill="none" stroke="#b0647a" stroke-width="0.9"/>
<rect x="1627.54" y="859.78" width="7.48" height="3.94" fill="#fff" stroke="#b0647a" stroke-width="0.9"/>
<path d="M1623.9 868.11 L1627.21 868.11" fill="none" stroke="#b0647a" stroke-width="0.9"/>
<rect x="1627.38" y="865.77" width="7.58" height="3.88" fill="#f9b32f"/>
<circle cx="1623.9" cy="893.2" r="2.85" fill="#b0647a"/>
<path d="M1623.9 893.2 L1623.9 909.62" fill="none" stroke="#b0647a" stroke-width="0.9"/>
<path d="M1623.9 899.95 L1627.21 899.95" fill="none" stroke="#b0647a" stroke-width="0.9"/>
<rect x="1627.54" y="897.98" width="7.48" height="3.94" fill="#fff" stroke="#b0647a" stroke-width="0.9"/>
<path d="M1623.9 906.31 L1627.21 906.31" fill="none" stroke="#b0647a" stroke-width="0.9"/>
<rect x="1627.38" y="903.97" width="7.58" height="3.88" fill="#f9b32f"/>
<circle cx="1661.6" cy="855" r="2.85" fill="#b0647a"/>
<path d="M1661.6 855 L1661.6 871.42" fill="none" stroke="#b0647a" stroke-width="0.9"/>
<path d="M1661.6 861.75 L1664.91 861.75" fill="none" stroke="#b0647a" stroke-width="0.9"/>
<rect x="1665.24" y="859.78" width="7.48" height="3.94" fill="#fff" stroke="#b0647a" stroke-width="0.9"/>
<path d="M1661.6 868.11 L1664.91 868.11" fill="none" stroke="#b0647a" stroke-width="0.9"/>
<rect x="1665.08" y="865.77" width="7.58" height="3.88" fill="#8c9bb8"/>
<circle cx="1661.6" cy="893.2" r="2.85" fill="#b0647a"/>
<path d="M1661.6 893.2 L1661.6 909.62" fill="none" stroke="#b0647a" stroke-width="0.9"/>
<path d="M1661.6 899.95 L1664.91 899.95" fill="none" stroke="#b0647a" stroke-width="0.9"/>
<rect x="1665.24" y="897.98" width="7.48" height="3.94" fill="#fff" stroke="#b0647a" stroke-width="0.9"/>
<path d="M1661.6 906.31 L1664.91 906.31" fill="none" stroke="#b0647a" stroke-width="0.9"/>
<rect x="1665.08" y="903.97" width="7.58" height="3.88" fill="#0f2a5f"/>
<text x="1628.4" y="881.66" font-size="5.2" fill="#36425f" text-anchor="middle">Requests</text>
<text x="1628.4" y="919.56" font-size="5.2" fill="#36425f" text-anchor="middle">Replies</text>
<text x="1676" y="839.31" font-size="4.7" fill="#36425f" text-anchor="middle">MessageID</text>
<path d="M1673 842.5 L1669.7 853" fill="none" stroke="#8c9bb8" stroke-width="0.7" stroke-dasharray="0.9 0.9"/>
<text x="1679.6" y="927.46" font-size="5.2" fill="#36425f" text-anchor="middle">Correlation ID</text>
<path d="M1671.5 910.3 L1677.5 921" fill="none" stroke="#8c9bb8" stroke-width="0.7" stroke-dasharray="0.9 0.9"/>
<text x="1509.4" y="927.73" font-size="6.1" fill="#36425f" text-anchor="middle">Requestor</text>
<text x="1741.6" y="927.73" font-size="6.1" fill="#36425f" text-anchor="middle">Replier</text>
<rect x="1818.1" y="597.8" width="30.4" height="21.9" fill="#d8dfeb"/>
<rect x="2083.6" y="597.8" width="30.4" height="21.9" fill="#d8dfeb"/>
<path d="M1952.37 601.2 L1982.43 601.2 L1982.43 617.9 L1952.37 617.9 A3.67 8.35 0 0 1 1952.37 601.2 Z" fill="#f9b32f"/>
<ellipse cx="1982.43" cy="609.55" rx="3.67" ry="8.35" fill="#fff"/>
<ellipse cx="1982.81" cy="609.55" rx="2.97" ry="7.26" fill="#f9b32f"/>
<circle cx="1870.5" cy="604.8" r="3.6" fill="#b0647a"/>
<path d="M1870.5 604.8 L1870.5 618.52" fill="none" stroke="#b0647a" stroke-width="1.09"/>
<path d="M1870.5 613.42 L1874.7 613.42" fill="none" stroke="#b0647a" stroke-width="1.09"/>
<rect x="1875.09" y="611.04" width="9.56" height="4.91" fill="#fff" stroke="#b0647a" stroke-width="1.09"/>
<circle cx="1894.3" cy="604.8" r="3.6" fill="#b0647a"/>
<path d="M1894.3 604.8 L1894.3 618.52" fill="none" stroke="#b0647a" stroke-width="1.09"/>
<path d="M1894.3 613.42 L1898.5 613.42" fill="none" stroke="#b0647a" stroke-width="1.09"/>
<rect x="1898.89" y="611.04" width="9.56" height="4.91" fill="#fff" stroke="#b0647a" stroke-width="1.09"/>
<circle cx="1917.5" cy="604.8" r="3.6" fill="#b0647a"/>
<path d="M1917.5 604.8 L1917.5 618.52" fill="none" stroke="#b0647a" stroke-width="1.09"/>
<path d="M1917.5 613.42 L1921.7 613.42" fill="none" stroke="#b0647a" stroke-width="1.09"/>
<rect x="1922.09" y="611.04" width="9.56" height="4.91" fill="#fff" stroke="#b0647a" stroke-width="1.09"/>
<circle cx="2005.4" cy="604.8" r="3.6" fill="#b0647a"/>
<path d="M2005.4 604.8 L2005.4 618.52" fill="none" stroke="#b0647a" stroke-width="1.09"/>
<path d="M2005.4 613.42 L2009.6 613.42" fill="none" stroke="#b0647a" stroke-width="1.09"/>
<rect x="2009.99" y="611.04" width="9.56" height="4.91" fill="#fff" stroke="#b0647a" stroke-width="1.09"/>
<circle cx="2028.5" cy="604.8" r="3.6" fill="#b0647a"/>
<path d="M2028.5 604.8 L2028.5 618.52" fill="none" stroke="#b0647a" stroke-width="1.09"/>
<path d="M2028.5 613.42 L2032.7 613.42" fill="none" stroke="#b0647a" stroke-width="1.09"/>
<rect x="2033.09" y="611.04" width="9.56" height="4.91" fill="#fff" stroke="#b0647a" stroke-width="1.09"/>
<circle cx="2052" cy="604.8" r="3.6" fill="#b0647a"/>
<path d="M2052 604.8 L2052 618.52" fill="none" stroke="#b0647a" stroke-width="1.09"/>
<path d="M2052 613.42 L2056.2 613.42" fill="none" stroke="#b0647a" stroke-width="1.09"/>
<rect x="2056.59" y="611.04" width="9.56" height="4.91" fill="#fff" stroke="#b0647a" stroke-width="1.09"/>
<path d="M1851.3 609.5 L1861.9 609.5 M1857.96 612.58 L1861.9 609.5 L1857.96 606.42" fill="none" stroke="#8c9bb8" stroke-width="1.3" stroke-linecap="round" stroke-linejoin="round"/>
<path d="M1936.5 609.5 L1946.7 609.5 M1942.76 612.58 L1946.7 609.5 L1942.76 606.42" fill="none" stroke="#8c9bb8" stroke-width="1.3" stroke-linecap="round" stroke-linejoin="round"/>
<path d="M1988.6 609.5 L1998.8 609.5 M1994.86 612.58 L1998.8 609.5 L1994.86 606.42" fill="none" stroke="#8c9bb8" stroke-width="1.3" stroke-linecap="round" stroke-linejoin="round"/>
<path d="M2071 609.5 L2081.5 609.5 M2077.56 612.58 L2081.5 609.5 L2077.56 606.42" fill="none" stroke="#8c9bb8" stroke-width="1.3" stroke-linecap="round" stroke-linejoin="round"/>
<text x="1833" y="634.03" font-size="6.1" fill="#36425f" text-anchor="middle">Sender</text>
<text x="2098.7" y="634.03" font-size="6.1" fill="#36425f" text-anchor="middle">Receiver</text>
<text x="1969.4" y="634.03" font-size="6.1" fill="#36425f" text-anchor="middle">Point-to-Point</text>
<text x="1969.4" y="642.23" font-size="6.1" fill="#36425f" text-anchor="middle">Channel</text>
<text x="1876" y="634.03" font-size="6.1" fill="#36425f" text-anchor="middle">Order</text>
<text x="1876" y="642.23" font-size="6.1" fill="#36425f" text-anchor="middle">#1</text>
<text x="1900.3" y="634.03" font-size="6.1" fill="#36425f" text-anchor="middle">Order</text>
<text x="1900.3" y="642.23" font-size="6.1" fill="#36425f" text-anchor="middle">#2</text>
<text x="1924" y="634.03" font-size="6.1" fill="#36425f" text-anchor="middle">Order</text>
<text x="1924" y="642.23" font-size="6.1" fill="#36425f" text-anchor="middle">#3</text>
<text x="2010.8" y="634.03" font-size="6.1" fill="#36425f" text-anchor="middle">Order</text>
<text x="2010.8" y="642.23" font-size="6.1" fill="#36425f" text-anchor="middle">#1</text>
<text x="2035.1" y="634.03" font-size="6.1" fill="#36425f" text-anchor="middle">Order</text>
<text x="2035.1" y="642.23" font-size="6.1" fill="#36425f" text-anchor="middle">#2</text>
<text x="2058.5" y="634.03" font-size="6.1" fill="#36425f" text-anchor="middle">Order</text>
<text x="2058.5" y="642.23" font-size="6.1" fill="#36425f" text-anchor="middle">#3</text>
<rect x="1818.4" y="709.6" width="30" height="21.9" fill="#d8dfeb"/>
<path d="M1851.2 721.4 L1861.8 721.4 M1857.86 724.48 L1861.8 721.4 L1857.86 718.32" fill="none" stroke="#8c9bb8" stroke-width="1.3" stroke-linecap="round" stroke-linejoin="round"/>
<circle cx="1872.6" cy="713.5" r="4.8" fill="#b0647a"/>
<path d="M1872.6 713.5 L1872.6 731.8" fill="none" stroke="#b0647a" stroke-width="1.45"/>
<path d="M1872.6 725 L1878.2 725" fill="none" stroke="#b0647a" stroke-width="1.45"/>
<rect x="1878.72" y="721.83" width="12.75" height="6.55" fill="#fff" stroke="#b0647a" stroke-width="1.45"/>
<path d="M1898.3 721.4 L1908.7 721.4 M1904.76 724.48 L1908.7 721.4 L1904.76 718.32" fill="none" stroke="#8c9bb8" stroke-width="1.3" stroke-linecap="round" stroke-linejoin="round"/>
<path d="M1916.33 713.2 L1946.47 713.2 L1946.47 729.7 L1916.33 729.7 A3.63 8.25 0 0 1 1916.33 713.2 Z" fill="#f9b32f"/>
<ellipse cx="1946.47" cy="721.45" rx="3.63" ry="8.25" fill="#fff"/>
<ellipse cx="1946.85" cy="721.45" rx="2.93" ry="7.18" fill="#f9b32f"/>
<path d="M1952.6 721.4 L1999 721.4 M1995.06 724.48 L1999 721.4 L1995.06 718.32" fill="none" stroke="#8c9bb8" stroke-width="1.3" stroke-linecap="round" stroke-linejoin="round"/>
<path d="M1960.3 721.4 L1960.3 776 L1999 776" fill="none" stroke="#8c9bb8" stroke-width="1.1"/>
<path d="M1995.06 779.08 L1999 776 L1995.06 772.92" fill="none" stroke="#8c9bb8" stroke-width="1.3" stroke-linecap="round" stroke-linejoin="round"/>
<path d="M2009.9 713.4 L2027 730 M2027 713.4 L2009.9 730" fill="none" stroke="#0f2a5f" stroke-width="1.9"/>
<rect x="2068.5" y="709.6" width="30.2" height="21.9" fill="#d8dfeb"/>
<circle cx="2010.6" cy="764.4" r="4.8" fill="#b0647a"/>
<path d="M2010.6 764.4 L2010.6 782.7" fill="none" stroke="#b0647a" stroke-width="1.45"/>
<path d="M2010.6 775.9 L2016.2 775.9" fill="none" stroke="#b0647a" stroke-width="1.45"/>
<rect x="2016.72" y="772.73" width="12.75" height="6.55" fill="#fff" stroke="#b0647a" stroke-width="1.45"/>
<path d="M2036.7 776 L2059.5 776 M2055.56 779.08 L2059.5 776 L2055.56 772.92" fill="none" stroke="#8c9bb8" stroke-width="1.3" stroke-linecap="round" stroke-linejoin="round"/>
<path d="M2068.69 767.8 L2099.01 767.8 L2099.01 784.1 L2068.69 784.1 A3.59 8.15 0 0 1 2068.69 767.8 Z" fill="#f9b32f"/>
<ellipse cx="2099.01" cy="775.95" rx="3.59" ry="8.15" fill="#fff"/>
<ellipse cx="2099.38" cy="775.95" rx="2.9" ry="7.09" fill="#f9b32f"/>
<path d="M1913.6 766.2 L1960.3 766.2" fill="none" stroke="#8c9bb8" stroke-width="0.8" stroke-dasharray="0.9 0.9"/>
<text x="1885.9" y="768.03" font-size="6.1" fill="#36425f" text-anchor="middle">Reroute Delivery</text>
<text x="1833.3" y="745.93" font-size="6.1" fill="#36425f" text-anchor="middle">Sender</text>
<text x="1880.4" y="745.93" font-size="6.1" fill="#36425f" text-anchor="middle">Message</text>
<text x="1931.6" y="745.93" font-size="6.1" fill="#36425f" text-anchor="middle">Channel</text>
<text x="2018.4" y="704.53" font-size="6.1" fill="#36425f" text-anchor="middle">Delivery Fails</text>
<text x="2083.4" y="743.23" font-size="6.1" fill="#36425f" text-anchor="middle">Intended Receiver</text>
<text x="2018.4" y="795.53" font-size="6.1" fill="#36425f" text-anchor="middle">Dead Message</text>
<text x="2084.8" y="795.53" font-size="6.1" fill="#36425f" text-anchor="middle">Dead Letter Channel</text>
<rect x="1860" y="857.3" width="30.2" height="21.9" fill="#d8dfeb"/>
<rect x="2034.9" y="834.5" width="30.2" height="22.4" fill="#d8dfeb"/>
<rect x="2034.9" y="880.1" width="30.2" height="22.1" fill="#d8dfeb"/>
<path d="M1967.1 839.05 L1983.7 839.05 L1983.7 898.15 A8.3 3.65 0 0 1 1967.1 898.15 Z" fill="#f9b32f"/>
<ellipse cx="1975.4" cy="839.05" rx="8.3" ry="3.65" fill="#fff"/>
<ellipse cx="1975.4" cy="838.67" rx="7.22" ry="2.95" fill="#f9b32f"/>
<path d="M1892.5 868.1 L1965.6 868.1 M1961.66 871.18 L1965.6 868.1 L1961.66 865.02 M1896.44 865.02 L1892.5 868.1 L1896.44 871.18" fill="none" stroke="#8c9bb8" stroke-width="1.3" stroke-linecap="round" stroke-linejoin="round"/>
<path d="M1985.6 846 L2012.4 846 M2008.46 849.08 L2012.4 846 L2008.46 842.92 M1989.54 842.92 L1985.6 846 L1989.54 849.08" fill="none" stroke="#8c9bb8" stroke-width="1.3" stroke-linecap="round" stroke-linejoin="round"/>
<path d="M1985.6 890.5 L2032.3 890.5 M2028.36 893.58 L2032.3 890.5 L2028.36 887.42 M1989.54 887.42 L1985.6 890.5 L1989.54 893.58" fill="none" stroke="#8c9bb8" stroke-width="1.3" stroke-linecap="round" stroke-linejoin="round"/>
<path d="M2023.2 835.7 L2015.1 840.6 L2015.1 852.4 L2023.2 857.3Z" fill="#0093dc"/>
<path d="M2023.2 846 L2034.9 846" fill="none" stroke="#8c9bb8" stroke-width="1.1"/>
<text x="1876.4" y="893.63" font-size="6.1" fill="#36425f" text-anchor="middle">Application</text>
<text x="2049.3" y="863.93" font-size="6.1" fill="#36425f" text-anchor="middle">Application</text>
<text x="2049.3" y="909.43" font-size="6.1" fill="#36425f" text-anchor="middle">Application</text>
<text x="1975.6" y="912.13" font-size="6.1" fill="#36425f" text-anchor="middle">Message Bus</text>
<circle cx="1134" cy="1077.4" r="4.8" fill="#b0647a"/>
<path d="M1134 1077.4 L1134 1095.7" fill="none" stroke="#b0647a" stroke-width="1.45"/>
<path d="M1134 1088.9 L1139.6 1088.9" fill="none" stroke="#b0647a" stroke-width="1.45"/>
<rect x="1140.12" y="1085.72" width="12.75" height="6.55" fill="#fff" stroke="#b0647a" stroke-width="1.45"/>
<path d="M1157.7 1086.8 L1170 1086.8 M1166.06 1089.88 L1170 1086.8 L1166.06 1083.72" fill="none" stroke="#8c9bb8" stroke-width="1.3" stroke-linecap="round" stroke-linejoin="round"/>
<path d="M1177.67 1078 L1207.93 1078 L1207.93 1094.7 L1177.67 1094.7 A3.67 8.35 0 0 1 1177.67 1078 Z" fill="#f9b32f"/>
<ellipse cx="1207.93" cy="1086.35" rx="3.67" ry="8.35" fill="#fff"/>
<ellipse cx="1208.31" cy="1086.35" rx="2.97" ry="7.26" fill="#f9b32f"/>
<path d="M1214.8 1086.8 L1227.5 1086.8 M1223.56 1089.88 L1227.5 1086.8 L1223.56 1083.72" fill="none" stroke="#8c9bb8" stroke-width="1.3" stroke-linecap="round" stroke-linejoin="round"/>
<path d="M1232.2 1083 L1239.76 1083 A10.6 10.6 0 0 1 1260.5 1086.25" fill="none" stroke="#0f2a5f" stroke-width="4.3" stroke-linejoin="round"/>
<path d="M1232.2 1089.8 L1239.97 1089.8 A10.6 10.6 0 0 0 1259.83 1089.8 L1263.9 1089.8" fill="none" stroke="#0f2a5f" stroke-width="4.3" stroke-linejoin="round"/>
<path d="M1263.6 1083.5 L1271.3 1089.8 L1263.6 1096.1Z" fill="#0f2a5f"/>
<path d="M1274.4 1086.3 L1283.5 1086.3 L1283.5 1057.7 L1296.2 1057.7" fill="none" stroke="#8c9bb8" stroke-width="1.1"/>
<path d="M1292.26 1060.78 L1296.2 1057.7 L1292.26 1054.62" fill="none" stroke="#8c9bb8" stroke-width="1.3" stroke-linecap="round" stroke-linejoin="round"/>
<path d="M1283.5 1086.3 L1283.5 1108.2" fill="none" stroke="#8c9bb8" stroke-width="0.8" stroke-dasharray="0.9 0.9"/>
<path d="M1283.5 1108.2 L1335 1108.2" fill="none" stroke="#8c9bb8" stroke-width="1"/>
<path d="M1331.06 1111.28 L1335 1108.2 L1331.06 1105.12" fill="none" stroke="#8c9bb8" stroke-width="1.3" stroke-linecap="round" stroke-linejoin="round"/>
<circle cx="1301.7" cy="1045.5" r="4.8" fill="#b0647a"/>
<path d="M1301.7 1045.5 L1301.7 1063.8" fill="none" stroke="#b0647a" stroke-width="1.45"/>
<path d="M1301.7 1057 L1307.3 1057" fill="none" stroke="#b0647a" stroke-width="1.45"/>
<rect x="1307.83" y="1053.82" width="12.75" height="6.55" fill="#fff" stroke="#b0647a" stroke-width="1.45"/>
<path d="M1323.5 1057.7 L1335.4 1057.7 M1331.46 1060.78 L1335.4 1057.7 L1331.46 1054.62" fill="none" stroke="#8c9bb8" stroke-width="1.3" stroke-linecap="round" stroke-linejoin="round"/>
<path d="M1340.75 1049.5 L1371.05 1049.5 L1371.05 1066.1 L1340.75 1066.1 A3.65 8.3 0 0 1 1340.75 1049.5 Z" fill="#f9b32f"/>
<ellipse cx="1371.05" cy="1057.8" rx="3.65" ry="8.3" fill="#fff"/>
<ellipse cx="1371.43" cy="1057.8" rx="2.95" ry="7.22" fill="#f9b32f"/>
<path d="M1374.7 1057.7 L1393 1057.7 M1389.06 1060.78 L1393 1057.7 L1389.06 1054.62" fill="none" stroke="#8c9bb8" stroke-width="1.3" stroke-linecap="round" stroke-linejoin="round"/>
<rect x="1395" y="1047.4" width="29.7" height="21.9" fill="#d8dfeb"/>
<path d="M1340.77 1100.2 L1371.03 1100.2 L1371.03 1116.9 L1340.77 1116.9 A3.67 8.35 0 0 1 1340.77 1100.2 Z" fill="#f9b32f"/>
<ellipse cx="1371.03" cy="1108.55" rx="3.67" ry="8.35" fill="#fff"/>
<ellipse cx="1371.41" cy="1108.55" rx="2.97" ry="7.26" fill="#f9b32f"/>
<path d="M1374.7 1108.2 L1393 1108.2 M1389.06 1111.28 L1393 1108.2 L1389.06 1105.12" fill="none" stroke="#8c9bb8" stroke-width="1.3" stroke-linecap="round" stroke-linejoin="round"/>
<rect x="1395" y="1097.9" width="29.7" height="21.9" fill="#d8dfeb"/>
<text x="1357.7" y="1042.13" font-size="6.1" fill="#36425f" text-anchor="middle">outQueue 1</text>
<text x="1357.7" y="1093.63" font-size="6.1" fill="#36425f" text-anchor="middle">outQueue 2</text>
<text x="1192.7" y="1110.33" font-size="6.1" fill="#36425f" text-anchor="middle">inQueue</text>
<text x="1248.6" y="1110.33" font-size="6.1" fill="#36425f" text-anchor="middle">Messages</text>
<text x="1248.6" y="1118.43" font-size="6.1" fill="#36425f" text-anchor="middle">Router</text>
<circle cx="1160.8" cy="1182.5" r="4.99" fill="#b0647a"/>
<path d="M1160.8 1182.5 L1160.8 1201.53" fill="none" stroke="#b0647a" stroke-width="1.51"/>
<path d="M1160.8 1194.46 L1166.62 1194.46" fill="none" stroke="#b0647a" stroke-width="1.51"/>
<rect x="1167.17" y="1191.16" width="13.26" height="6.81" fill="#fff" stroke="#b0647a" stroke-width="1.51"/>
<text x="1234.5" y="1188.13" font-size="6.1" fill="#36425f" text-anchor="middle">Broadcast</text>
<path d="M1191.9 1192.6 L1294.4 1192.6 M1290.46 1195.68 L1294.4 1192.6 L1290.46 1189.52" fill="none" stroke="#8c9bb8" stroke-width="1.3" stroke-linecap="round" stroke-linejoin="round"/>
<path d="M1294.4 1169.3 L1275.1 1169.3 L1275.1 1215.1 L1294.4 1215.1" fill="none" stroke="#8c9bb8" stroke-width="1.1"/>
<path d="M1290.46 1172.38 L1294.4 1169.3 L1290.46 1166.22" fill="none" stroke="#8c9bb8" stroke-width="1.3" stroke-linecap="round" stroke-linejoin="round"/>
<path d="M1290.46 1218.18 L1294.4 1215.1 L1290.46 1212.02" fill="none" stroke="#8c9bb8" stroke-width="1.3" stroke-linecap="round" stroke-linejoin="round"/>
<rect x="1303.9" y="1163.3" width="36.2" height="11.9" fill="#d8dfeb"/>
<text x="1322" y="1171.13" font-size="6.1" fill="#36425f" text-anchor="middle">Vendor A</text>
<path d="M1345.6 1169.3 L1358.4 1169.3 M1354.46 1172.38 L1358.4 1169.3 L1354.46 1166.22" fill="none" stroke="#8c9bb8" stroke-width="1.3" stroke-linecap="round" stroke-linejoin="round"/>
<circle cx="1368.4" cy="1164.2" r="2.98" fill="#b0647a"/>
<path d="M1368.4 1164.2 L1368.4 1175.55" fill="none" stroke="#b0647a" stroke-width="0.9"/>
<path d="M1368.4 1171.33 L1371.87 1171.33" fill="none" stroke="#b0647a" stroke-width="0.9"/>
<rect x="1372.2" y="1169.36" width="7.9" height="4.06" fill="#fff" stroke="#b0647a" stroke-width="0.9"/>
<rect x="1303.9" y="1186.2" width="36.2" height="11.9" fill="#d8dfeb"/>
<text x="1322" y="1194.03" font-size="6.1" fill="#36425f" text-anchor="middle">Vendor B</text>
<path d="M1345.6 1192.2 L1358.4 1192.2 M1354.46 1195.28 L1358.4 1192.2 L1354.46 1189.12" fill="none" stroke="#8c9bb8" stroke-width="1.3" stroke-linecap="round" stroke-linejoin="round"/>
<circle cx="1368.4" cy="1187.1" r="2.98" fill="#b0647a"/>
<path d="M1368.4 1187.1 L1368.4 1198.45" fill="none" stroke="#b0647a" stroke-width="0.9"/>
<path d="M1368.4 1194.23 L1371.87 1194.23" fill="none" stroke="#b0647a" stroke-width="0.9"/>
<rect x="1372.2" y="1192.26" width="7.9" height="4.06" fill="#fff" stroke="#b0647a" stroke-width="0.9"/>
<rect x="1303.9" y="1209" width="36.2" height="11.9" fill="#d8dfeb"/>
<text x="1322" y="1216.83" font-size="6.1" fill="#36425f" text-anchor="middle">Vendor C</text>
<path d="M1345.6 1215 L1358.4 1215 M1354.46 1218.08 L1358.4 1215 L1354.46 1211.92" fill="none" stroke="#8c9bb8" stroke-width="1.3" stroke-linecap="round" stroke-linejoin="round"/>
<circle cx="1368.4" cy="1209.9" r="2.98" fill="#b0647a"/>
<path d="M1368.4 1209.9 L1368.4 1221.25" fill="none" stroke="#b0647a" stroke-width="0.9"/>
<path d="M1368.4 1217.03 L1371.87 1217.03" fill="none" stroke="#b0647a" stroke-width="0.9"/>
<rect x="1372.2" y="1215.06" width="7.9" height="4.06" fill="#fff" stroke="#b0647a" stroke-width="0.9"/>
<text x="1391.3" y="1166.03" font-size="6.1" fill="#36425f" text-anchor="middle">Quote</text>
<path d="M1404.7 1168.4 L1417.5 1168.4 L1417.5 1239.2 L1274.2 1239.2" fill="none" stroke="#8c9bb8" stroke-width="1.1"/>
<path d="M1278.14 1236.12 L1274.2 1239.2 L1278.14 1242.28" fill="none" stroke="#8c9bb8" stroke-width="1.3" stroke-linecap="round" stroke-linejoin="round"/>
<path d="M1406 1191.7 L1417.5 1191.7" fill="none" stroke="#8c9bb8" stroke-width="1.1"/>
<path d="M1406 1214.7 L1417.5 1214.7" fill="none" stroke="#8c9bb8" stroke-width="1.1"/>
<rect x="1210.7" y="1225.1" width="59" height="29.9" fill="#d8dfeb"/>
<rect x="1221.7" y="1235.7" width="6.8" height="6.4" fill="#0f2a5f"/>
<path d="M1245 1239.2 L1233.4 1239.2 M1236.08 1237.11 L1233.4 1239.2 L1236.08 1241.29" fill="none" stroke="#8c9bb8" stroke-width="1.7" stroke-linecap="round" stroke-linejoin="round"/>
<rect x="1250.4" y="1229.3" width="6.4" height="5.5" fill="#0f2a5f"/>
<rect x="1250.4" y="1237" width="6.4" height="6.1" fill="#0f2a5f"/>
<rect x="1250.4" y="1244.9" width="6.4" height="5.8" fill="#0f2a5f"/>
<path d="M1208 1239.2 L1191 1239.2 M1194.94 1236.12 L1191 1239.2 L1194.94 1242.28" fill="none" stroke="#8c9bb8" stroke-width="1.3" stroke-linecap="round" stroke-linejoin="round"/>
<circle cx="1160.8" cy="1234.6" r="4.99" fill="#b0647a"/>
<path d="M1160.8 1234.6 L1160.8 1253.63" fill="none" stroke="#b0647a" stroke-width="1.51"/>
<path d="M1160.8 1246.56 L1166.62 1246.56" fill="none" stroke="#b0647a" stroke-width="1.51"/>
<rect x="1167.17" y="1243.26" width="13.26" height="6.81" fill="#fff" stroke="#b0647a" stroke-width="1.51"/>
<text x="1168.1" y="1210.53" font-size="6.1" fill="#36425f" text-anchor="middle">Quote Request</text>
<text x="1162.6" y="1262.83" font-size="6.1" fill="#36425f" text-anchor="middle">“Best” Request</text>
<text x="1240" y="1262.83" font-size="6.1" fill="#36425f" text-anchor="middle">Aggregator</text>
<circle cx="1160.8" cy="1320.8" r="4.99" fill="#b0647a"/>
<path d="M1160.8 1320.8 L1160.8 1339.83" fill="none" stroke="#b0647a" stroke-width="1.51"/>
<path d="M1160.8 1332.76 L1166.62 1332.76" fill="none" stroke="#b0647a" stroke-width="1.51"/>
<rect x="1167.17" y="1329.46" width="13.26" height="6.81" fill="#fff" stroke="#b0647a" stroke-width="1.51"/>
<path d="M1190.6 1332.2 L1208 1332.2 M1204.06 1335.28 L1208 1332.2 L1204.06 1329.12" fill="none" stroke="#8c9bb8" stroke-width="1.3" stroke-linecap="round" stroke-linejoin="round"/>
<text x="1168.1" y="1349.53" font-size="6.1" fill="#36425f" text-anchor="middle">Trigger</text>
<text x="1168.1" y="1357.83" font-size="6.1" fill="#36425f" text-anchor="middle">Message</text>
<path d="M1278.8 1306.2 L1278.8 1291.4 L1353.8 1291.4" fill="none" stroke="#8c9bb8" stroke-width="1.1"/>
<path d="M1349.86 1294.48 L1353.8 1291.4 L1349.86 1288.32" fill="none" stroke="#8c9bb8" stroke-width="1.3" stroke-linecap="round" stroke-linejoin="round"/>
<path d="M1353.8 1300.1 L1287 1300.1 L1287 1305.6" fill="none" stroke="#8c9bb8" stroke-width="1.1"/>
<path d="M1284.78 1303.06 L1287 1305.9 L1289.22 1303.06" fill="none" stroke="#8c9bb8" stroke-width="1.2" stroke-linecap="round" stroke-linejoin="round"/>
<path d="M1293.4 1331.2 L1353.8 1331.2 M1349.86 1334.28 L1353.8 1331.2 L1349.86 1328.12" fill="none" stroke="#8c9bb8" stroke-width="1.3" stroke-linecap="round" stroke-linejoin="round"/>
<path d="M1353.8 1339.8 L1296.2 1339.8 M1300.14 1336.72 L1296.2 1339.8 L1300.14 1342.88" fill="none" stroke="#8c9bb8" stroke-width="1.3" stroke-linecap="round" stroke-linejoin="round"/>
<path d="M1353.8 1371.5 L1287 1371.5 L1287 1365.1" fill="none" stroke="#8c9bb8" stroke-width="1.1"/>
<path d="M1289.22 1367.74 L1287 1364.9 L1284.78 1367.74" fill="none" stroke="#8c9bb8" stroke-width="1.2" stroke-linecap="round" stroke-linejoin="round"/>
<path d="M1278.8 1364.7 L1278.8 1379.7 L1353.8 1379.7" fill="none" stroke="#8c9bb8" stroke-width="1.1"/>
<path d="M1349.86 1382.78 L1353.8 1379.7 L1349.86 1376.62" fill="none" stroke="#8c9bb8" stroke-width="1.3" stroke-linecap="round" stroke-linejoin="round"/>
<rect x="1214.8" y="1306.2" width="78.6" height="58.5" fill="#d8dfeb"/>
<circle cx="1254.5" cy="1318.1" r="6.5" fill="none" stroke="#56648f" stroke-width="1.1"/>
<path d="M1254.5 1324.6 L1254.5 1328.1" fill="none" stroke="#56648f" stroke-width="1.1"/>
<path d="M1247.7 1331 L1239.9 1331 L1239.9 1340.4" fill="none" stroke="#56648f" stroke-width="1.1"/>
<path d="M1261.1 1331 L1268.5 1331 L1268.5 1340.4" fill="none" stroke="#56648f" stroke-width="1.1"/>
<path d="M1254.3 1334 L1254.3 1340.4" fill="none" stroke="#56648f" stroke-width="1.1"/>
<rect x="1247.9" y="1328.3" width="13" height="5.5" fill="#d8dfeb" stroke="#56648f" stroke-width="1.1"/>
<rect x="1235.9" y="1340.9" width="7.9" height="6.4" fill="#d8dfeb" stroke="#56648f" stroke-width="1.1"/>
<rect x="1250.4" y="1340.9" width="7.9" height="6.4" fill="#d8dfeb" stroke="#56648f" stroke-width="1.1"/>
<rect x="1264.7" y="1340.9" width="7.9" height="6.4" fill="#d8dfeb" stroke="#56648f" stroke-width="1.1"/>
<text x="1254.5" y="1358.33" font-size="6.1" fill="#36425f" text-anchor="middle">Process Manager</text>
<rect x="1362" y="1288.6" width="36.3" height="11.8" fill="#d8dfeb"/>
<text x="1380.2" y="1296.43" font-size="6.1" fill="#36425f" text-anchor="middle">Vendor A</text>
<circle cx="1322.7" cy="1295.2" r="6.8" fill="#e9f0fb"/>
<text x="1322.7" y="1296.94" font-size="5.8" fill="#1f2b45" text-anchor="middle" font-weight="700">1</text>
<rect x="1362" y="1329" width="36.3" height="11.8" fill="#d8dfeb"/>
<text x="1380.2" y="1336.83" font-size="6.1" fill="#36425f" text-anchor="middle">Vendor B</text>
<circle cx="1322.7" cy="1335.8" r="6.8" fill="#e9f0fb"/>
<text x="1322.7" y="1337.54" font-size="5.8" fill="#1f2b45" text-anchor="middle" font-weight="700">2</text>
<rect x="1362" y="1369.3" width="36.3" height="11.8" fill="#d8dfeb"/>
<text x="1380.2" y="1377.13" font-size="6.1" fill="#36425f" text-anchor="middle">Vendor C</text>
<circle cx="1322.7" cy="1375.5" r="6.8" fill="#e9f0fb"/>
<text x="1322.7" y="1377.24" font-size="5.8" fill="#1f2b45" text-anchor="middle" font-weight="700">3</text>
<circle cx="1495.7" cy="1053.9" r="4.8" fill="#b0647a"/>
<path d="M1495.7 1053.9 L1495.7 1072.2" fill="none" stroke="#b0647a" stroke-width="1.45"/>
<path d="M1495.7 1065.4 L1501.3 1065.4" fill="none" stroke="#b0647a" stroke-width="1.45"/>
<rect x="1501.8" y="1061.9" width="13.1" height="6.9" fill="#0f2a5f"/>
<circle cx="1744" cy="1053.9" r="4.8" fill="#b0647a"/>
<path d="M1744 1053.9 L1744 1072.2" fill="none" stroke="#b0647a" stroke-width="1.45"/>
<path d="M1744 1065.4 L1749.6 1065.4" fill="none" stroke="#b0647a" stroke-width="1.45"/>
<rect x="1750.1" y="1061.9" width="13.1" height="6.9" fill="#8c9bb8"/>
<rect x="1546.5" y="1057.3" width="36" height="12" fill="#d8dfeb"/>
<rect x="1609.4" y="1057.3" width="36.4" height="12" fill="#d8dfeb"/>
<rect x="1672.4" y="1057.3" width="36.3" height="12" fill="#d8dfeb"/>
<path d="M1519.1 1063.6 L1543.4 1063.6 M1539.46 1066.68 L1543.4 1063.6 L1539.46 1060.52" fill="none" stroke="#8c9bb8" stroke-width="1.3" stroke-linecap="round" stroke-linejoin="round"/>
<path d="M1582.5 1063.6 L1606.4 1063.6 M1602.46 1066.68 L1606.4 1063.6 L1602.46 1060.52" fill="none" stroke="#8c9bb8" stroke-width="1.3" stroke-linecap="round" stroke-linejoin="round"/>
<path d="M1645.8 1063.6 L1669.6 1063.6 M1665.66 1066.68 L1669.6 1063.6 L1665.66 1060.52" fill="none" stroke="#8c9bb8" stroke-width="1.3" stroke-linecap="round" stroke-linejoin="round"/>
<path d="M1708.7 1063.6 L1732.6 1063.6 M1728.66 1066.68 L1732.6 1063.6 L1728.66 1060.52" fill="none" stroke="#8c9bb8" stroke-width="1.3" stroke-linecap="round" stroke-linejoin="round"/>
<text x="1627.5" y="1044.73" font-size="6.1" fill="#36425f" text-anchor="middle">Message Flow</text>
<path d="M1564.5 1074.4 L1564.5 1087.3 L1688 1087.3 L1688 1074.4" fill="none" stroke="#8c9bb8" stroke-width="1.1"/>
<path d="M1567.58 1078.14 L1564.5 1074.2 L1561.42 1078.14" fill="none" stroke="#8c9bb8" stroke-width="1.3" stroke-linecap="round" stroke-linejoin="round"/>
<path d="M1691.08 1078.14 L1688 1074.2 L1684.92 1078.14" fill="none" stroke="#8c9bb8" stroke-width="1.3" stroke-linecap="round" stroke-linejoin="round"/>
<path d="M1627 1099.8 L1627 1074.2 M1630.08 1078.14 L1627 1074.2 L1623.92 1078.14 M1623.92 1095.86 L1627 1099.8 L1630.08 1095.86" fill="none" stroke="#8c9bb8" stroke-width="1.3" stroke-linecap="round" stroke-linejoin="round"/>
<text x="1661.1" y="1097.43" font-size="6.1" fill="#36425f" text-anchor="middle">Control Bus</text>
<rect x="1612" y="1105.9" width="30.2" height="16.9" fill="#fff" stroke="#9b6a4d" stroke-width="1.2"/>
<path d="M1627.1 1122.8 L1627.1 1127.6" fill="none" stroke="#9b6a4d" stroke-width="1.2"/>
<path d="M1620 1127.6 L1634.2 1127.6" fill="none" stroke="#9b6a4d" stroke-width="1.2" stroke-linecap="round"/>
<path d="M1618.19 1117.56 L1623.48 1112.66 L1628.46 1117.56 L1636.16 1109.87" fill="none" stroke="#9b6a4d" stroke-width="1.02" stroke-linejoin="round"/>
<circle cx="1618.19" cy="1117.56" r="1.3" fill="#9b6a4d"/>
<circle cx="1623.48" cy="1112.66" r="1.3" fill="#9b6a4d"/>
<circle cx="1628.46" cy="1117.56" r="1.3" fill="#9b6a4d"/>
<circle cx="1636.16" cy="1109.87" r="1.3" fill="#9b6a4d"/>
<circle cx="1481.5" cy="1173" r="4.03" fill="#b0647a"/>
<path d="M1481.5 1173 L1481.5 1188.37" fill="none" stroke="#b0647a" stroke-width="1.22"/>
<path d="M1481.5 1182.66 L1486.2 1182.66" fill="none" stroke="#b0647a" stroke-width="1.22"/>
<rect x="1486.64" y="1179.99" width="10.71" height="5.5" fill="#fff" stroke="#b0647a" stroke-width="1.22"/>
<circle cx="1574.3" cy="1173" r="4.03" fill="#b0647a"/>
<path d="M1574.3 1173 L1574.3 1188.37" fill="none" stroke="#b0647a" stroke-width="1.22"/>
<path d="M1574.3 1182.66 L1579 1182.66" fill="none" stroke="#b0647a" stroke-width="1.22"/>
<rect x="1579.42" y="1179.72" width="11" height="5.8" fill="#8c9bb8"/>
<circle cx="1665.9" cy="1173" r="4.03" fill="#b0647a"/>
<path d="M1665.9 1173 L1665.9 1188.37" fill="none" stroke="#b0647a" stroke-width="1.22"/>
<path d="M1665.9 1182.66 L1670.6 1182.66" fill="none" stroke="#b0647a" stroke-width="1.22"/>
<rect x="1671.02" y="1179.72" width="11" height="5.8" fill="#f9b32f"/>
<circle cx="1757.7" cy="1173" r="4.03" fill="#b0647a"/>
<path d="M1757.7 1173 L1757.7 1188.37" fill="none" stroke="#b0647a" stroke-width="1.22"/>
<path d="M1757.7 1182.66 L1762.4 1182.66" fill="none" stroke="#b0647a" stroke-width="1.22"/>
<rect x="1762.82" y="1179.72" width="11" height="5.8" fill="#0f2a5f"/>
<path d="M1500.7 1180.9 L1510.8 1180.9 M1506.86 1183.98 L1510.8 1180.9 L1506.86 1177.82" fill="none" stroke="#8c9bb8" stroke-width="1.3" stroke-linecap="round" stroke-linejoin="round"/>
<path d="M1553.8 1180.9 L1564.2 1180.9 M1560.26 1183.98 L1564.2 1180.9 L1560.26 1177.82" fill="none" stroke="#8c9bb8" stroke-width="1.3" stroke-linecap="round" stroke-linejoin="round"/>
<path d="M1594.4 1180.9 L1604.1 1180.9 M1600.16 1183.98 L1604.1 1180.9 L1600.16 1177.82" fill="none" stroke="#8c9bb8" stroke-width="1.3" stroke-linecap="round" stroke-linejoin="round"/>
<path d="M1645.8 1180.9 L1656.2 1180.9 M1652.26 1183.98 L1656.2 1180.9 L1652.26 1177.82" fill="none" stroke="#8c9bb8" stroke-width="1.3" stroke-linecap="round" stroke-linejoin="round"/>
<path d="M1686.4 1180.9 L1696.8 1180.9 M1692.86 1183.98 L1696.8 1180.9 L1692.86 1177.82" fill="none" stroke="#8c9bb8" stroke-width="1.3" stroke-linecap="round" stroke-linejoin="round"/>
<path d="M1738.5 1180.9 L1748.9 1180.9 M1744.96 1183.98 L1748.9 1180.9 L1744.96 1177.82" fill="none" stroke="#8c9bb8" stroke-width="1.3" stroke-linecap="round" stroke-linejoin="round"/>
<rect x="1516.6" y="1176.3" width="27.5" height="8.6" fill="#d8dfeb"/>
<rect x="1545.9" y="1176.3" width="7.5" height="8.6" fill="#d8dfeb"/>
<rect x="1608.6" y="1176.3" width="27.5" height="8.6" fill="#d8dfeb"/>
<rect x="1637.9" y="1176.3" width="7.9" height="8.6" fill="#d8dfeb"/>
<rect x="1701.6" y="1176.3" width="27.2" height="8.6" fill="#d8dfeb"/>
<rect x="1730.8" y="1176.3" width="7.7" height="8.6" fill="#d8dfeb"/>
<path d="M1532.4 1184.9 L1532.4 1219.3 L1606.3 1219.3" fill="none" stroke="#8c9bb8" stroke-width="1.1"/>
<path d="M1602.36 1222.38 L1606.3 1219.3 L1602.36 1216.22" fill="none" stroke="#8c9bb8" stroke-width="1.3" stroke-linecap="round" stroke-linejoin="round"/>
<path d="M1626.6 1184.9 L1626.6 1201.9 M1623.52 1197.96 L1626.6 1201.9 L1629.68 1197.96" fill="none" stroke="#8c9bb8" stroke-width="1.3" stroke-linecap="round" stroke-linejoin="round"/>
<path d="M1718.4 1184.9 L1718.4 1219.3 L1645.8 1219.3" fill="none" stroke="#8c9bb8" stroke-width="1.1"/>
<path d="M1649.74 1216.22 L1645.8 1219.3 L1649.74 1222.38" fill="none" stroke="#8c9bb8" stroke-width="1.3" stroke-linecap="round" stroke-linejoin="round"/>
<path d="M1611.4 1210.13 A15.1 5.13 0 0 1 1641.6 1210.13 L1641.6 1228.17 A15.1 5.13 0 0 1 1611.4 1228.17 Z" fill="#d8dfeb"/>
<path d="M1611.4 1210.13 A15.1 5.13 0 0 0 1641.6 1210.13" fill="none" stroke="#fff" stroke-width="1.2"/>
<path d="M1611.4 1216.14 A15.1 5.13 0 0 0 1641.6 1216.14" fill="none" stroke="#fff" stroke-width="1.2"/>
<path d="M1611.4 1222.16 A15.1 5.13 0 0 0 1641.6 1222.16" fill="none" stroke="#fff" stroke-width="1.2"/>
<text x="1626.4" y="1239.43" font-size="6.1" fill="#36425f" text-anchor="middle">Message Store</text>
<circle cx="1599" cy="1248.9" r="4.13" fill="#b0647a"/>
<path d="M1599 1248.9 L1599 1264.64" fill="none" stroke="#b0647a" stroke-width="1.25"/>
<path d="M1599 1258.79 L1603.82 1258.79" fill="none" stroke="#b0647a" stroke-width="1.25"/>
<rect x="1604.25" y="1255.78" width="11.27" height="5.93" fill="#8c9bb8"/>
<circle cx="1622.4" cy="1248.9" r="4.13" fill="#b0647a"/>
<path d="M1622.4 1248.9 L1622.4 1264.64" fill="none" stroke="#b0647a" stroke-width="1.25"/>
<path d="M1622.4 1258.79 L1627.22 1258.79" fill="none" stroke="#b0647a" stroke-width="1.25"/>
<rect x="1627.65" y="1255.78" width="11.27" height="5.93" fill="#f9b32f"/>
<circle cx="1646.1" cy="1248.9" r="4.13" fill="#b0647a"/>
<path d="M1646.1 1248.9 L1646.1 1264.64" fill="none" stroke="#b0647a" stroke-width="1.25"/>
<path d="M1646.1 1258.79 L1650.92 1258.79" fill="none" stroke="#b0647a" stroke-width="1.25"/>
<rect x="1651.35" y="1255.78" width="11.27" height="5.93" fill="#0f2a5f"/>
<circle cx="1481.2" cy="1315.3" r="3.74" fill="#b0647a"/>
<path d="M1481.2 1315.3 L1481.2 1329.57" fill="none" stroke="#b0647a" stroke-width="1.13"/>
<path d="M1481.2 1324.27 L1485.57 1324.27" fill="none" stroke="#b0647a" stroke-width="1.13"/>
<rect x="1485.98" y="1321.79" width="9.95" height="5.11" fill="#fff" stroke="#b0647a" stroke-width="1.13"/>
<circle cx="1502.6" cy="1315.3" r="3.74" fill="#b0647a"/>
<path d="M1502.6 1315.3 L1502.6 1329.57" fill="none" stroke="#b0647a" stroke-width="1.13"/>
<path d="M1502.6 1324.27 L1506.97 1324.27" fill="none" stroke="#b0647a" stroke-width="1.13"/>
<rect x="1507.38" y="1321.79" width="9.95" height="5.11" fill="#fff" stroke="#b0647a" stroke-width="1.13"/>
<circle cx="1741.8" cy="1315.3" r="3.74" fill="#b0647a"/>
<path d="M1741.8 1315.3 L1741.8 1329.57" fill="none" stroke="#b0647a" stroke-width="1.13"/>
<path d="M1741.8 1324.27 L1746.17 1324.27" fill="none" stroke="#b0647a" stroke-width="1.13"/>
<rect x="1746.58" y="1321.79" width="9.95" height="5.11" fill="#fff" stroke="#b0647a" stroke-width="1.13"/>
<circle cx="1763.2" cy="1315.3" r="3.74" fill="#b0647a"/>
<path d="M1763.2 1315.3 L1763.2 1329.57" fill="none" stroke="#b0647a" stroke-width="1.13"/>
<path d="M1763.2 1324.27 L1767.57 1324.27" fill="none" stroke="#b0647a" stroke-width="1.13"/>
<rect x="1767.98" y="1321.79" width="9.95" height="5.11" fill="#fff" stroke="#b0647a" stroke-width="1.13"/>
<path d="M1520.3 1323.5 L1530.4 1323.5 M1526.46 1326.58 L1530.4 1323.5 L1526.46 1320.42" fill="none" stroke="#8c9bb8" stroke-width="1.3" stroke-linecap="round" stroke-linejoin="round"/>
<rect x="1534.6" y="1317" width="36.2" height="11.8" fill="#d8dfeb"/>
<path d="M1570.8 1323.5 L1609.2 1323.5 M1605.26 1326.58 L1609.2 1323.5 L1605.26 1320.42" fill="none" stroke="#8c9bb8" stroke-width="1.3" stroke-linecap="round" stroke-linejoin="round"/>
<rect x="1612.3" y="1317" width="36.6" height="11.8" fill="#d8dfeb"/>
<path d="M1648.9 1323.5 L1686.9 1323.5 M1682.96 1326.58 L1686.9 1323.5 L1682.96 1320.42" fill="none" stroke="#8c9bb8" stroke-width="1.3" stroke-linecap="round" stroke-linejoin="round"/>
<rect x="1690" y="1305.6" width="36.3" height="23.4" fill="#d8dfeb"/>
<path d="M1726.3 1323.5 L1736.3 1323.5 M1732.36 1326.58 L1736.3 1323.5 L1732.36 1320.42" fill="none" stroke="#8c9bb8" stroke-width="1.3" stroke-linecap="round" stroke-linejoin="round"/>
<path d="M1694.3 1315.9 L1699.2 1315.7" fill="none" stroke="#8c9bb8" stroke-width="0.9"/>
<path d="M1699.2 1315.7 L1716.2 1311.4" fill="none" stroke="#8c9bb8" stroke-width="0.9"/>
<path d="M1716.2 1311.4 L1721.2 1311.2" fill="none" stroke="#8c9bb8" stroke-width="0.9"/>
<circle cx="1699.2" cy="1315.7" r="1.3" fill="#8c9bb8"/>
<circle cx="1716.2" cy="1311.4" r="1.3" fill="#8c9bb8"/>
<circle cx="1715.7" cy="1317" r="1.3" fill="#8c9bb8"/>
<path d="M1715.7 1317 L1721.2 1317" fill="none" stroke="#8c9bb8" stroke-width="0.9"/>
<circle cx="1715.7" cy="1322.6" r="1.3" fill="#8c9bb8"/>
<path d="M1715.7 1322.6 L1721.2 1322.6" fill="none" stroke="#8c9bb8" stroke-width="0.9"/>
<circle cx="1575.7" cy="1310.7" r="2.1" fill="#b0647a"/>
<path d="M1575.7 1310.7 L1575.7 1318.1" fill="none" stroke="#b0647a" stroke-width="0.8"/>
<path d="M1575.7 1315.3 L1579 1315.3" fill="none" stroke="#b0647a" stroke-width="0.8"/>
<rect x="1579.2" y="1313.9" width="4.9" height="2.8" fill="#fff" stroke="#b0647a" stroke-width="0.8"/>
<circle cx="1587.1" cy="1310.7" r="2.1" fill="#b0647a"/>
<path d="M1587.1 1310.7 L1587.1 1318.1" fill="none" stroke="#b0647a" stroke-width="0.8"/>
<path d="M1587.1 1315.3 L1590.4 1315.3" fill="none" stroke="#b0647a" stroke-width="0.8"/>
<rect x="1590.6" y="1313.9" width="4.9" height="2.8" fill="#fff" stroke="#b0647a" stroke-width="0.8"/>
<circle cx="1598.6" cy="1310.7" r="2.1" fill="#b0647a"/>
<path d="M1598.6 1310.7 L1598.6 1318.1" fill="none" stroke="#b0647a" stroke-width="0.8"/>
<path d="M1598.6 1315.3 L1601.9 1315.3" fill="none" stroke="#b0647a" stroke-width="0.8"/>
<rect x="1601.7" y="1313.6" width="5.7" height="3.4" fill="#f9b32f"/>
<circle cx="1652.2" cy="1310.7" r="2.1" fill="#b0647a"/>
<path d="M1652.2 1310.7 L1652.2 1318.1" fill="none" stroke="#b0647a" stroke-width="0.8"/>
<path d="M1652.2 1315.3 L1655.5 1315.3" fill="none" stroke="#b0647a" stroke-width="0.8"/>
<rect x="1655.7" y="1313.9" width="4.9" height="2.8" fill="#fff" stroke="#b0647a" stroke-width="0.8"/>
<circle cx="1663.5" cy="1310.7" r="2.1" fill="#b0647a"/>
<path d="M1663.5 1310.7 L1663.5 1318.1" fill="none" stroke="#b0647a" stroke-width="0.8"/>
<path d="M1663.5 1315.3 L1666.8 1315.3" fill="none" stroke="#b0647a" stroke-width="0.8"/>
<rect x="1667" y="1313.9" width="4.9" height="2.8" fill="#fff" stroke="#b0647a" stroke-width="0.8"/>
<circle cx="1675" cy="1310.7" r="2.1" fill="#b0647a"/>
<path d="M1675 1310.7 L1675 1318.1" fill="none" stroke="#b0647a" stroke-width="0.8"/>
<path d="M1675 1315.3 L1678.3 1315.3" fill="none" stroke="#b0647a" stroke-width="0.8"/>
<rect x="1678.1" y="1313.6" width="5.7" height="3.4" fill="#f9b32f"/>
<rect x="1534.6" y="1351" width="36.2" height="11.9" fill="#d8dfeb"/>
<rect x="1691.5" y="1351" width="36" height="11.9" fill="#d8dfeb"/>
<path d="M1552.9 1351 L1552.9 1329.7 M1555.98 1333.64 L1552.9 1329.7 L1549.82 1333.64" fill="none" stroke="#8c9bb8" stroke-width="1.3" stroke-linecap="round" stroke-linejoin="round"/>
<path d="M1570.8 1356.8 L1691 1356.8 M1687.06 1359.88 L1691 1356.8 L1687.06 1353.72" fill="none" stroke="#8c9bb8" stroke-width="1.3" stroke-linecap="round" stroke-linejoin="round"/>
<path d="M1709.6 1329 L1709.6 1350.4 M1706.52 1346.46 L1709.6 1350.4 L1712.68 1346.46" fill="none" stroke="#8c9bb8" stroke-width="1.3" stroke-linecap="round" stroke-linejoin="round"/>
<path d="M1709.6 1362.9 L1709.6 1372.4 M1706.52 1368.46 L1709.6 1372.4 L1712.68 1368.46" fill="none" stroke="#8c9bb8" stroke-width="1.3" stroke-linecap="round" stroke-linejoin="round"/>
<rect x="1697.9" y="1375.2" width="24.5" height="13.6" fill="#fff" stroke="#9b6a4d" stroke-width="1.1"/>
<path d="M1710.15 1388.8 L1710.15 1393.2" fill="none" stroke="#9b6a4d" stroke-width="1.1"/>
<path d="M1704.39 1393.2 L1715.91 1393.2" fill="none" stroke="#9b6a4d" stroke-width="1.1" stroke-linecap="round"/>
<path d="M1702.92 1384.58 L1707.21 1380.64 L1711.25 1384.58 L1717.5 1378.4" fill="none" stroke="#9b6a4d" stroke-width="0.94" stroke-linejoin="round"/>
<circle cx="1702.92" cy="1384.58" r="1.19" fill="#9b6a4d"/>
<circle cx="1707.21" cy="1380.64" r="1.19" fill="#9b6a4d"/>
<circle cx="1711.25" cy="1384.58" r="1.19" fill="#9b6a4d"/>
<circle cx="1717.5" cy="1378.4" r="1.19" fill="#9b6a4d"/>
<circle cx="1539.2" cy="1356.8" r="1.2" fill="#8c9bb8"/>
<path d="M1539.2 1356.8 L1547.7 1356.8" fill="none" stroke="#8c9bb8" stroke-width="1.3"/>
<path d="M1549.2 1356.8 L1546.6 1354.8 L1546.6 1358.8Z" fill="#8c9bb8"/>
<rect x="1551.9" y="1355.3" width="2.9" height="3" fill="#f9b32f"/>
<rect x="1556.9" y="1355.3" width="2.9" height="3" fill="#f9b32f"/>
<rect x="1562" y="1355.3" width="2.9" height="3" fill="#f9b32f"/>
<circle cx="1587.3" cy="1348" r="1.2" fill="#8c9bb8"/>
<path d="M1587.3 1348 L1595.3 1348" fill="none" stroke="#8c9bb8" stroke-width="1.3"/>
<path d="M1596.8 1348 L1594.2 1346 L1594.2 1350Z" fill="#8c9bb8"/>
<rect x="1599.9" y="1346.5" width="2.9" height="3" fill="#f9b32f"/>
<rect x="1605" y="1346.5" width="2.9" height="3" fill="#f9b32f"/>
<rect x="1610.1" y="1346.5" width="2.9" height="3" fill="#f9b32f"/>
<circle cx="1540" cy="1336.3" r="1.99" fill="#b0647a"/>
<path d="M1540 1336.3 L1540 1343.33" fill="none" stroke="#b0647a" stroke-width="0.8"/>
<path d="M1540 1340.67 L1543.13 1340.67" fill="none" stroke="#b0647a" stroke-width="0.8"/>
<rect x="1542.94" y="1339.06" width="5.41" height="3.23" fill="#f9b32f"/>
<circle cx="1715.7" cy="1336.3" r="1.99" fill="#b0647a"/>
<path d="M1715.7 1336.3 L1715.7 1343.33" fill="none" stroke="#b0647a" stroke-width="0.8"/>
<path d="M1715.7 1340.67 L1718.84 1340.67" fill="none" stroke="#b0647a" stroke-width="0.8"/>
<rect x="1718.64" y="1339.06" width="5.41" height="3.23" fill="#f9b32f"/>
<text x="1552.9" y="1305.03" font-size="6.1" fill="#36425f" text-anchor="middle">Test Message</text>
<text x="1552.9" y="1313.33" font-size="6.1" fill="#36425f" text-anchor="middle">Injector</text>
<text x="1630.2" y="1313.43" font-size="6.1" fill="#36425f" text-anchor="middle">Processor</text>
<text x="1708.3" y="1292.43" font-size="6.1" fill="#36425f" text-anchor="middle">Test Message</text>
<text x="1708.3" y="1300.43" font-size="6.1" fill="#36425f" text-anchor="middle">Separator</text>
<text x="1756.8" y="1292.43" font-size="6.1" fill="#36425f" text-anchor="middle">Application</text>
<text x="1756.8" y="1300.43" font-size="6.1" fill="#36425f" text-anchor="middle">Messages</text>
<text x="1496.5" y="1338.53" font-size="6.1" fill="#36425f" text-anchor="middle">Application</text>
<text x="1496.5" y="1346.73" font-size="6.1" fill="#36425f" text-anchor="middle">Messages</text>
<text x="1577.6" y="1342.23" font-size="6.1" fill="#36425f" text-anchor="middle">Test Message</text>
<text x="1690" y="1342.23" font-size="6.1" fill="#36425f" text-anchor="middle">Test Result</text>
<text x="1731.2" y="1358.63" font-size="6.1" fill="#36425f">Test Data Verifier</text>
<text x="1552.9" y="1372.93" font-size="6.1" fill="#36425f" text-anchor="middle">Test Data</text>
<text x="1552.9" y="1380.93" font-size="6.1" fill="#36425f" text-anchor="middle">Generator</text>
<text x="1727.5" y="1383.73" font-size="6.1" fill="#36425f">Control Bus</text>
<text x="1896.2" y="1049.43" font-size="6.1" fill="#36425f" text-anchor="middle">Incoming</text>
<text x="1896.2" y="1057.83" font-size="6.1" fill="#36425f" text-anchor="middle">Message</text>
<text x="1966.3" y="1049.43" font-size="6.1" fill="#36425f" text-anchor="middle">Translator</text>
<text x="2035.4" y="1049.43" font-size="6.1" fill="#36425f" text-anchor="middle">Translated</text>
<text x="2035.4" y="1057.83" font-size="6.1" fill="#36425f" text-anchor="middle">Message</text>
<circle cx="1887.3" cy="1074.5" r="5" fill="#b0647a"/>
<path d="M1887.3 1074.5 L1887.3 1110.8" fill="none" stroke="#b0647a" stroke-width="1.3"/>
<path d="M1887.3 1085.85 L1894 1085.85" fill="none" stroke="#b0647a" stroke-width="1.3"/>
<rect x="1894" y="1082.3" width="13" height="7.1" fill="#f9b32f"/>
<path d="M1887.3 1096.65 L1894 1096.65" fill="none" stroke="#b0647a" stroke-width="1.3"/>
<rect x="1894" y="1093.3" width="13" height="6.7" fill="#8c9bb8"/>
<path d="M1887.3 1107.25 L1894 1107.25" fill="none" stroke="#b0647a" stroke-width="1.3"/>
<rect x="1894" y="1103.7" width="13" height="7.1" fill="#0f2a5f"/>
<circle cx="2026.9" cy="1074.5" r="5" fill="#b0647a"/>
<path d="M2026.9 1074.5 L2026.9 1110.8" fill="none" stroke="#b0647a" stroke-width="1.3"/>
<path d="M2026.9 1085.85 L2033.6 1085.85" fill="none" stroke="#b0647a" stroke-width="1.3"/>
<rect x="2033.6" y="1082.3" width="13" height="7.1" fill="#0f2a5f"/>
<path d="M2026.9 1096.65 L2033.6 1096.65" fill="none" stroke="#b0647a" stroke-width="1.3"/>
<rect x="2033.6" y="1093.3" width="13" height="6.7" fill="#8c9bb8"/>
<path d="M2026.9 1107.25 L2033.6 1107.25" fill="none" stroke="#b0647a" stroke-width="1.3"/>
<rect x="2033.6" y="1103.7" width="13" height="7.1" fill="#f9b32f"/>
<path d="M1911 1096.4 L1931.8 1096.4 M1927.86 1099.48 L1931.8 1096.4 L1927.86 1093.32" fill="none" stroke="#8c9bb8" stroke-width="1.3" stroke-linecap="round" stroke-linejoin="round"/>
<path d="M2001.8 1096.4 L2022.9 1096.4 M2018.96 1099.48 L2022.9 1096.4 L2018.96 1093.32" fill="none" stroke="#8c9bb8" stroke-width="1.3" stroke-linecap="round" stroke-linejoin="round"/>
<rect x="1935.8" y="1079.5" width="62.2" height="31.4" fill="#d8dfeb"/>
<rect x="1944.8" y="1086.2" width="18.8" height="18.3" fill="#8c9bb8"/>
<rect x="1970.9" y="1086.2" width="18.3" height="18.3" fill="#8c9bb8"/>
<path d="M1951.9 1089.4 L1982.4 1101.1" fill="none" stroke="#4c5a85" stroke-width="0.8"/>
<path d="M1951.9 1101.1 L1982.4 1089.4" fill="none" stroke="#4c5a85" stroke-width="0.8"/>
<text x="1841.1" y="1178.83" font-size="6.1" fill="#36425f" text-anchor="middle">Source</text>
<text x="1890.1" y="1178.83" font-size="6.1" fill="#36425f" text-anchor="middle">Wrapper</text>
<text x="1966.2" y="1178.83" font-size="6.1" fill="#36425f" text-anchor="middle">Messaging System</text>
<text x="2039.2" y="1178.83" font-size="6.1" fill="#36425f" text-anchor="middle">UnWrapper</text>
<text x="2093.5" y="1178.83" font-size="6.1" fill="#36425f" text-anchor="middle">Recipient</text>
<rect x="1917" y="1184.3" width="98.4" height="76.1" fill="#f4f5fa"/>
<circle cx="1834.3" cy="1198" r="4.9" fill="#b0647a"/>
<path d="M1834.3 1198 L1834.3 1216.67" fill="none" stroke="#b0647a" stroke-width="1.48"/>
<path d="M1834.3 1209.73 L1840.01 1209.73" fill="none" stroke="#b0647a" stroke-width="1.48"/>
<rect x="1840.55" y="1206.49" width="13.01" height="6.68" fill="#fff" stroke="#b0647a" stroke-width="1.48"/>
<path d="M1862.7 1202.8 L1873.3 1202.8 M1869.36 1205.88 L1873.3 1202.8 L1869.36 1199.72" fill="none" stroke="#8c9bb8" stroke-width="1.3" stroke-linecap="round" stroke-linejoin="round"/>
<rect x="1882.65" y="1196.95" width="15.3" height="11.5" fill="#fff" stroke="#8c9bb8" stroke-width="1.5"/>
<path d="M1882.65 1196.95 L1890.3 1203.48 L1897.95 1196.95" fill="none" stroke="#8c9bb8" stroke-width="1.5" stroke-linejoin="round"/>
<path d="M1906.6 1202.8 L1926.7 1202.8 M1922.76 1205.88 L1926.7 1202.8 L1922.76 1199.72" fill="none" stroke="#8c9bb8" stroke-width="1.3" stroke-linecap="round" stroke-linejoin="round"/>
<circle cx="1935.8" cy="1198" r="4.9" fill="#b0647a"/>
<path d="M1935.8 1198 L1935.8 1215.6" fill="none" stroke="#b0647a" stroke-width="1.3"/>
<path d="M1935.8 1209 L1942.2 1209" fill="none" stroke="#b0647a" stroke-width="1.3"/>
<rect x="1942.95" y="1203.35" width="15.3" height="11.3" fill="#f4f5fa" stroke="#8c9bb8" stroke-width="1.5"/>
<path d="M1942.95 1203.35 L1950.6 1209.77 L1958.25 1203.35" fill="none" stroke="#8c9bb8" stroke-width="1.5" stroke-linejoin="round"/>
<circle cx="1976.6" cy="1198" r="4.9" fill="#b0647a"/>
<path d="M1976.6 1198 L1976.6 1215.6" fill="none" stroke="#b0647a" stroke-width="1.3"/>
<path d="M1976.6 1209 L1983.4 1209" fill="none" stroke="#b0647a" stroke-width="1.3"/>
<rect x="1984.15" y="1203.35" width="15.3" height="11.3" fill="#f4f5fa" stroke="#8c9bb8" stroke-width="1.5"/>
<path d="M1984.15 1203.35 L1991.8 1209.77 L1999.45 1203.35" fill="none" stroke="#8c9bb8" stroke-width="1.5" stroke-linejoin="round"/>
<path d="M2003.5 1202.8 L2023.6 1202.8 M2019.66 1205.88 L2023.6 1202.8 L2019.66 1199.72" fill="none" stroke="#8c9bb8" stroke-width="1.3" stroke-linecap="round" stroke-linejoin="round"/>
<path d="M2031.75 1195.95 L2039.4 1189.25 L2047.05 1195.95 L2047.05 1208.45 L2031.75 1208.45Z" fill="#fff" stroke="#8c9bb8" stroke-width="1.5" stroke-linejoin="round"/>
<path d="M2031.75 1196.95 L2039.4 1203.4 L2047.05 1196.95Z" fill="#8c9bb8"/>
<path d="M2059.7 1202.8 L2069.9 1202.8 M2065.96 1205.88 L2069.9 1202.8 L2065.96 1199.72" fill="none" stroke="#8c9bb8" stroke-width="1.3" stroke-linecap="round" stroke-linejoin="round"/>
<circle cx="2084.4" cy="1198" r="4.9" fill="#b0647a"/>
<path d="M2084.4 1198 L2084.4 1216.67" fill="none" stroke="#b0647a" stroke-width="1.48"/>
<path d="M2084.4 1209.73 L2090.11 1209.73" fill="none" stroke="#b0647a" stroke-width="1.48"/>
<rect x="2090.65" y="1206.49" width="13.01" height="6.68" fill="#fff" stroke="#b0647a" stroke-width="1.48"/>
<rect x="1956.9" y="1225.7" width="7.1" height="29" fill="none" stroke="#8c9bb8" stroke-width="1.2"/>
<rect x="1966.6" y="1225.7" width="6.7" height="29" fill="none" stroke="#8c9bb8" stroke-width="1.2"/>
<rect x="1975.8" y="1225.7" width="7" height="29" fill="none" stroke="#8c9bb8" stroke-width="1.2"/>
<path d="M1947.4 1219.1 L1947.4 1243.8 L1956 1243.8" fill="none" stroke="#8c9bb8" stroke-width="1.1"/>
<path d="M1953.01 1246.14 L1956 1243.8 L1953.01 1241.46" fill="none" stroke="#8c9bb8" stroke-width="1.2" stroke-linecap="round" stroke-linejoin="round"/>
<path d="M1983.4 1243.8 L1993.5 1243.8 L1993.5 1219.6" fill="none" stroke="#8c9bb8" stroke-width="1.1"/>
<path d="M1995.84 1222.59 L1993.5 1219.6 L1991.16 1222.59" fill="none" stroke="#8c9bb8" stroke-width="1.2" stroke-linecap="round" stroke-linejoin="round"/>
<text x="1962.4" y="1301.03" font-size="6.1" fill="#36425f" text-anchor="middle">Enricher</text>
<circle cx="1839.3" cy="1312.4" r="4.9" fill="#b0647a"/>
<path d="M1839.3 1312.4 L1839.3 1331.07" fill="none" stroke="#b0647a" stroke-width="1.48"/>
<path d="M1839.3 1324.13 L1845.01 1324.13" fill="none" stroke="#b0647a" stroke-width="1.48"/>
<rect x="1845.55" y="1320.89" width="13.01" height="6.68" fill="#fff" stroke="#b0647a" stroke-width="1.48"/>
<path d="M1867.6 1321.5 L1928.5 1321.5 M1924.56 1324.58 L1928.5 1321.5 L1924.56 1318.42" fill="none" stroke="#8c9bb8" stroke-width="1.3" stroke-linecap="round" stroke-linejoin="round"/>
<rect x="1930.9" y="1306.1" width="63.1" height="31.5" fill="#d8dfeb"/>
<rect x="1938.6" y="1316.9" width="10.4" height="10.6" fill="#8c9bb8"/>
<rect x="1967.9" y="1312.5" width="18.8" height="19.1" fill="#8c9bb8"/>
<path d="M1949 1322.2 L1965 1322.2" fill="none" stroke="#8c9bb8" stroke-width="1.3"/>
<path d="M1967.9 1322.2 L1964.2 1319.8 L1964.2 1324.6Z" fill="#8c9bb8"/>
<path d="M1994 1321.5 L2054.4 1321.5 M2050.46 1324.58 L2054.4 1321.5 L2050.46 1318.42" fill="none" stroke="#8c9bb8" stroke-width="1.3" stroke-linecap="round" stroke-linejoin="round"/>
<circle cx="2071.8" cy="1312.4" r="4.9" fill="#b0647a"/>
<path d="M2071.8 1312.4 L2071.8 1340.4" fill="none" stroke="#b0647a" stroke-width="1.3"/>
<path d="M2071.8 1324 L2077.6 1324" fill="none" stroke="#b0647a" stroke-width="1.3"/>
<path d="M2071.8 1335 L2077.6 1335" fill="none" stroke="#b0647a" stroke-width="1.3"/>
<rect x="2078.2" y="1321.2" width="12.9" height="5.7" fill="#fff" stroke="#b0647a" stroke-width="1.3"/>
<rect x="2077.7" y="1331.6" width="13.9" height="6.9" fill="#8c9bb8"/>
<path d="M1958.3 1339.4 L1958.3 1354.6 M1955.22 1350.66 L1958.3 1354.6 L1961.38 1350.66" fill="none" stroke="#8c9bb8" stroke-width="1.3" stroke-linecap="round" stroke-linejoin="round"/>
<path d="M1966.9 1354.6 L1966.9 1339.4 M1969.98 1343.34 L1966.9 1339.4 L1963.82 1343.34" fill="none" stroke="#8c9bb8" stroke-width="1.3" stroke-linecap="round" stroke-linejoin="round"/>
<path d="M1948.1 1362.53 A15.1 5.13 0 0 1 1978.3 1362.53 L1978.3 1380.07 A15.1 5.13 0 0 1 1948.1 1380.07 Z" fill="#d8dfeb"/>
<path d="M1948.1 1362.53 A15.1 5.13 0 0 0 1978.3 1362.53" fill="none" stroke="#fff" stroke-width="1.2"/>
<path d="M1948.1 1368.38 A15.1 5.13 0 0 0 1978.3 1368.38" fill="none" stroke="#fff" stroke-width="1.2"/>
<path d="M1948.1 1374.22 A15.1 5.13 0 0 0 1978.3 1374.22" fill="none" stroke="#fff" stroke-width="1.2"/>
<text x="1962.4" y="1393.03" font-size="6.1" fill="#36425f" text-anchor="middle">Resource</text>
<text x="1844.8" y="1350.43" font-size="6.1" fill="#36425f" text-anchor="middle">Basic</text>
<text x="1844.8" y="1358.63" font-size="6.1" fill="#36425f" text-anchor="middle">Message</text>
<text x="2073.9" y="1350.43" font-size="6.1" fill="#36425f" text-anchor="middle">Enriched</text>
<text x="2073.9" y="1358.63" font-size="6.1" fill="#36425f" text-anchor="middle">Message</text>
</svg>
</body></html>
